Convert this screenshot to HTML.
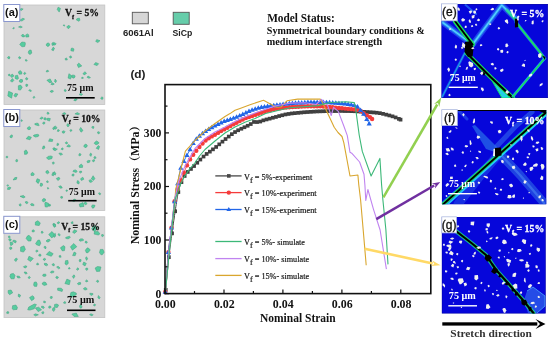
<!DOCTYPE html>
<html><head><meta charset="utf-8"><title>Figure</title>
<style>html,body{margin:0;padding:0;background:#fff;overflow:hidden}svg{display:block}.tn{font-family:"Liberation Serif","Times New Roman",serif}.sa{font-family:"Liberation Sans",Arial,sans-serif}</style></head><body>
<svg width="550" height="341" viewBox="0 0 550 341">
<rect x="4" y="5" width="100.8" height="99.5" fill="#d7d7d7" stroke="#c4c4c4" stroke-width="0.8"/><polygon points="23.2,9.0 21.4,10.5 19.6,9.7 21.1,8.4" fill="#56cc9f" stroke="#3f9f7c" stroke-width="0.5"/><polygon points="24.6,19.1 21.9,21.1 19.8,20.2 22.9,18.2" fill="#56cc9f" stroke="#3f9f7c" stroke-width="0.5"/><polygon points="14.4,27.8 13.7,29.0 12.7,28.5 13.6,27.4" fill="#56cc9f" stroke="#3f9f7c" stroke-width="0.5"/><polygon points="22.3,27.1 20.8,27.8 18.5,27.0 20.4,26.1" fill="#56cc9f" stroke="#3f9f7c" stroke-width="0.5"/><polygon points="24.7,35.8 24.3,36.9 22.5,36.9 21.3,35.7 22.1,34.6 23.5,34.6" fill="#56cc9f" stroke="#3f9f7c" stroke-width="0.5"/><polygon points="28.7,34.8 28.8,36.9 25.9,37.1 25.7,34.9 27.4,33.9" fill="#56cc9f" stroke="#3f9f7c" stroke-width="0.5"/><polygon points="25.4,43.9 24.7,46.5 21.9,46.8 19.7,44.4 21.8,42.0 25.1,42.4" fill="#56cc9f" stroke="#3f9f7c" stroke-width="0.5"/><polygon points="49.8,44.1 49.1,45.9 47.6,46.5 46.0,45.1 47.0,43.3 48.5,43.0" fill="#56cc9f" stroke="#3f9f7c" stroke-width="0.5"/><polygon points="54.5,43.7 54.3,44.8 52.4,45.5 52.0,44.7 51.9,43.2 53.3,42.3" fill="#56cc9f" stroke="#3f9f7c" stroke-width="0.5"/><polygon points="54.5,48.2 53.4,50.7 51.6,49.9 53.2,47.1" fill="#56cc9f" stroke="#3f9f7c" stroke-width="0.5"/><polygon points="31.8,53.1 30.0,54.5 28.8,53.8 28.2,52.1 29.3,50.2 31.1,50.0" fill="#56cc9f" stroke="#3f9f7c" stroke-width="0.5"/><polygon points="60.5,8.4 59.2,12.1 57.2,9.5 58.1,7.2" fill="#56cc9f" stroke="#3f9f7c" stroke-width="0.5"/><polygon points="80.0,20.1 79.0,21.3 76.4,20.0 76.9,18.7 79.3,18.1" fill="#56cc9f" stroke="#3f9f7c" stroke-width="0.5"/><polygon points="70.4,27.0 68.2,28.7 66.7,26.8 69.0,25.3" fill="#56cc9f" stroke="#3f9f7c" stroke-width="0.5"/><polygon points="64.8,25.7 64.0,26.2 63.1,25.2 64.3,24.8" fill="#56cc9f" stroke="#3f9f7c" stroke-width="0.5"/><polygon points="100.0,40.7 97.8,42.6 95.7,41.4 96.7,39.6" fill="#56cc9f" stroke="#3f9f7c" stroke-width="0.5"/><polygon points="74.0,48.9 73.5,51.3 70.9,50.8 71.1,48.6 72.0,47.9" fill="#56cc9f" stroke="#3f9f7c" stroke-width="0.5"/><polygon points="56.1,43.8 55.2,45.0 54.1,45.1 53.5,44.5 54.2,42.7 55.3,42.9" fill="#56cc9f" stroke="#3f9f7c" stroke-width="0.5"/><polygon points="9.9,56.9 9.4,58.8 8.0,58.5 7.4,57.6 8.4,56.5" fill="#56cc9f" stroke="#3f9f7c" stroke-width="0.5"/><polygon points="21.0,57.8 19.8,59.1 18.5,58.0 19.2,56.5" fill="#56cc9f" stroke="#3f9f7c" stroke-width="0.5"/><polygon points="27.4,60.6 25.9,61.3 25.1,59.9 26.1,59.4" fill="#56cc9f" stroke="#3f9f7c" stroke-width="0.5"/><polygon points="21.8,72.0 21.7,74.1 19.2,74.2 18.3,71.9 20.2,70.6" fill="#56cc9f" stroke="#3f9f7c" stroke-width="0.5"/><polygon points="26.0,73.4 24.9,74.5 23.6,73.9 24.6,72.2" fill="#56cc9f" stroke="#3f9f7c" stroke-width="0.5"/><polygon points="14.0,75.9 11.7,77.6 10.3,75.8 12.3,74.0" fill="#56cc9f" stroke="#3f9f7c" stroke-width="0.5"/><polygon points="10.1,75.3 9.2,75.9 8.5,75.6 8.3,74.7 8.9,74.1 9.9,74.3" fill="#56cc9f" stroke="#3f9f7c" stroke-width="0.5"/><polygon points="18.5,78.4 17.2,79.4 15.1,78.4 15.3,75.7 17.6,75.2" fill="#56cc9f" stroke="#3f9f7c" stroke-width="0.5"/><polygon points="13.9,80.3 12.3,82.1 10.4,81.1 12.4,78.5" fill="#56cc9f" stroke="#3f9f7c" stroke-width="0.5"/><polygon points="22.4,82.0 21.1,82.6 19.3,81.8 19.5,80.2 20.9,79.3 22.6,79.8" fill="#56cc9f" stroke="#3f9f7c" stroke-width="0.5"/><polygon points="27.9,78.5 27.0,80.1 25.4,79.1 26.4,77.4" fill="#56cc9f" stroke="#3f9f7c" stroke-width="0.5"/><polygon points="27.7,84.5 27.6,86.1 26.1,86.6 25.7,84.9 26.2,84.1" fill="#56cc9f" stroke="#3f9f7c" stroke-width="0.5"/><polygon points="22.3,87.2 20.5,90.1 18.4,89.8 18.3,85.8 20.5,85.0" fill="#56cc9f" stroke="#3f9f7c" stroke-width="0.5"/><polygon points="12.6,93.1 11.6,98.2 7.8,96.0 8.6,91.3" fill="#56cc9f" stroke="#3f9f7c" stroke-width="0.5"/><polygon points="17.9,94.0 16.0,97.1 13.9,95.9 15.2,93.4" fill="#56cc9f" stroke="#3f9f7c" stroke-width="0.5"/><polygon points="31.5,90.7 31.0,91.6 28.7,90.5 29.7,89.5" fill="#56cc9f" stroke="#3f9f7c" stroke-width="0.5"/><polygon points="34.8,97.6 34.0,98.4 33.5,98.1 33.1,97.4 33.8,96.4 34.3,96.4" fill="#56cc9f" stroke="#3f9f7c" stroke-width="0.5"/><polygon points="48.7,71.4 46.6,72.1 46.1,71.0 47.9,70.1" fill="#56cc9f" stroke="#3f9f7c" stroke-width="0.5"/><polygon points="51.9,82.3 49.4,82.7 46.9,80.2 50.2,78.9" fill="#56cc9f" stroke="#3f9f7c" stroke-width="0.5"/><polygon points="54.3,84.0 52.9,84.9 50.8,84.3 52.4,82.8" fill="#56cc9f" stroke="#3f9f7c" stroke-width="0.5"/><polygon points="53.5,91.0 52.1,92.6 49.9,91.5 51.8,90.3" fill="#56cc9f" stroke="#3f9f7c" stroke-width="0.5"/><polygon points="67.4,59.9 65.5,60.1 65.0,58.7 66.6,57.9" fill="#56cc9f" stroke="#3f9f7c" stroke-width="0.5"/><polygon points="71.7,57.5 70.3,58.2 69.3,56.7 71.0,55.8" fill="#56cc9f" stroke="#3f9f7c" stroke-width="0.5"/><polygon points="81.8,65.9 78.5,67.6 77.2,64.7 78.8,63.1" fill="#56cc9f" stroke="#3f9f7c" stroke-width="0.5"/><polygon points="98.6,63.7 97.1,65.6 93.9,64.5 95.6,62.5" fill="#56cc9f" stroke="#3f9f7c" stroke-width="0.5"/><polygon points="71.8,75.8 70.5,79.1 68.1,78.1 68.9,73.7" fill="#56cc9f" stroke="#3f9f7c" stroke-width="0.5"/><polygon points="75.1,76.8 74.0,78.2 71.9,77.5 71.9,75.9 72.5,74.9 74.8,75.4" fill="#56cc9f" stroke="#3f9f7c" stroke-width="0.5"/><polygon points="86.5,73.5 84.1,74.9 82.9,73.6 85.1,71.7" fill="#56cc9f" stroke="#3f9f7c" stroke-width="0.5"/><polygon points="90.5,77.6 88.9,78.3 87.0,77.3 88.1,76.0" fill="#56cc9f" stroke="#3f9f7c" stroke-width="0.5"/><polygon points="83.3,78.3 82.0,78.6 81.5,78.3 81.9,77.2 83.1,77.3" fill="#56cc9f" stroke="#3f9f7c" stroke-width="0.5"/><polygon points="56.6,80.9 55.6,82.7 54.6,81.6 55.1,79.1" fill="#56cc9f" stroke="#3f9f7c" stroke-width="0.5"/><polygon points="66.3,90.3 65.7,91.6 64.1,91.0 64.8,89.3" fill="#56cc9f" stroke="#3f9f7c" stroke-width="0.5"/><polygon points="82.6,94.2 81.4,95.5 79.1,94.5 80.4,93.3" fill="#56cc9f" stroke="#3f9f7c" stroke-width="0.5"/><polygon points="77.2,99.1 75.8,100.9 73.8,100.4 75.4,98.5" fill="#56cc9f" stroke="#3f9f7c" stroke-width="0.5"/><polygon points="103.0,98.8 102.1,99.5 100.8,98.7 100.9,97.7 101.8,96.9 103.0,97.4" fill="#56cc9f" stroke="#3f9f7c" stroke-width="0.5"/><rect x="3.8" y="4.5" width="16" height="17" fill="#fff" stroke="#8a97cf" stroke-width="1"/><text class="sa" x="11.8" y="16.4" font-size="11" font-weight="bold" text-anchor="middle" fill="#111">(a)</text><text class="tn" x="65.10000000000001" y="16" font-size="10.8" font-weight="bold" fill="#111" stroke="#111" stroke-width="0.3" textLength="33.9" lengthAdjust="spacingAndGlyphs">V<tspan font-size="6.7" dy="2.6">f</tspan><tspan dy="-2.6"> = 5%</tspan></text><text class="tn" x="66.9" y="91.4" font-size="10.5" font-weight="bold" fill="#111" textLength="26.6" lengthAdjust="spacingAndGlyphs">75 μm</text><rect x="66" y="97.0" width="28.7" height="1.6" fill="#000"/><rect x="4" y="110" width="100.8" height="100.5" fill="#d7d7d7" stroke="#c4c4c4" stroke-width="0.8"/><polygon points="22.5,120.7 22.0,121.4 20.8,120.9 21.6,119.6" fill="#56cc9f" stroke="#3f9f7c" stroke-width="0.5"/><polygon points="43.2,117.8 41.6,119.2 39.8,118.5 41.8,116.9" fill="#56cc9f" stroke="#3f9f7c" stroke-width="0.5"/><polygon points="49.2,113.3 48.8,113.9 47.6,114.3 46.9,113.1 47.8,112.0" fill="#56cc9f" stroke="#3f9f7c" stroke-width="0.5"/><polygon points="46.3,119.2 45.4,119.9 43.9,119.4 43.9,118.3 45.0,117.6 46.2,118.2" fill="#56cc9f" stroke="#3f9f7c" stroke-width="0.5"/><polygon points="50.4,118.6 49.5,121.1 46.7,119.9 47.6,118.1" fill="#56cc9f" stroke="#3f9f7c" stroke-width="0.5"/><polygon points="39.1,125.4 38.7,125.8 35.0,124.7 34.7,123.8 36.6,123.2 38.1,123.3" fill="#56cc9f" stroke="#3f9f7c" stroke-width="0.5"/><polygon points="44.9,122.4 44.9,123.5 43.7,124.2 42.6,123.5 43.0,122.4 44.0,121.9" fill="#56cc9f" stroke="#3f9f7c" stroke-width="0.5"/><polygon points="30.6,127.6 30.1,129.5 28.0,129.6 27.1,128.1 29.3,126.4" fill="#56cc9f" stroke="#3f9f7c" stroke-width="0.5"/><polygon points="12.4,136.9 11.7,137.8 10.2,137.4 9.9,136.3 11.4,134.9 12.3,135.0" fill="#56cc9f" stroke="#3f9f7c" stroke-width="0.5"/><polygon points="39.0,135.0 38.2,136.5 35.5,137.1 33.3,135.9 33.9,135.0 37.4,134.3" fill="#56cc9f" stroke="#3f9f7c" stroke-width="0.5"/><polygon points="31.4,137.2 30.0,139.8 26.2,138.8 28.3,136.2" fill="#56cc9f" stroke="#3f9f7c" stroke-width="0.5"/><polygon points="52.9,139.6 52.4,141.4 48.6,141.3 49.7,138.7" fill="#56cc9f" stroke="#3f9f7c" stroke-width="0.5"/><polygon points="44.9,148.0 43.2,149.1 42.4,148.7 43.1,146.1 44.4,145.9" fill="#56cc9f" stroke="#3f9f7c" stroke-width="0.5"/><polygon points="27.6,152.2 27.1,154.1 24.6,154.4 24.3,151.1 26.1,149.9" fill="#56cc9f" stroke="#3f9f7c" stroke-width="0.5"/><polygon points="52.4,156.6 51.8,158.7 48.5,159.5 46.5,158.0 48.0,156.4 50.9,155.9" fill="#56cc9f" stroke="#3f9f7c" stroke-width="0.5"/><polygon points="7.8,156.6 7.6,157.7 6.4,157.7 5.9,157.3 6.4,156.3 7.4,156.3" fill="#56cc9f" stroke="#3f9f7c" stroke-width="0.5"/><polygon points="55.2,128.2 53.9,129.7 52.7,129.0 53.3,127.2" fill="#56cc9f" stroke="#3f9f7c" stroke-width="0.5"/><polygon points="55.3,149.1 54.3,149.9 53.4,149.8 52.8,148.6 53.4,147.9 54.3,147.6" fill="#56cc9f" stroke="#3f9f7c" stroke-width="0.5"/><polygon points="66.1,113.6 64.8,114.8 62.5,113.6 64.3,112.6" fill="#56cc9f" stroke="#3f9f7c" stroke-width="0.5"/><polygon points="79.7,113.9 78.2,114.7 74.9,113.9 77.3,112.6" fill="#56cc9f" stroke="#3f9f7c" stroke-width="0.5"/><polygon points="69.3,125.6 67.9,127.0 66.7,125.1 67.8,123.6" fill="#56cc9f" stroke="#3f9f7c" stroke-width="0.5"/><polygon points="57.1,127.9 55.4,129.3 54.1,126.8 55.4,125.9" fill="#56cc9f" stroke="#3f9f7c" stroke-width="0.5"/><polygon points="59.5,130.3 58.7,131.5 57.3,131.3 57.9,129.4" fill="#56cc9f" stroke="#3f9f7c" stroke-width="0.5"/><polygon points="65.0,131.6 64.1,133.2 62.5,132.9 62.1,131.5 64.1,130.7" fill="#56cc9f" stroke="#3f9f7c" stroke-width="0.5"/><polygon points="72.2,130.4 70.6,131.6 69.8,130.4 70.9,129.4" fill="#56cc9f" stroke="#3f9f7c" stroke-width="0.5"/><polygon points="83.0,130.6 81.0,132.2 79.5,129.5 80.7,127.4" fill="#56cc9f" stroke="#3f9f7c" stroke-width="0.5"/><polygon points="94.0,127.0 93.5,128.4 92.7,128.4 91.7,127.2 92.2,126.4 93.8,126.5" fill="#56cc9f" stroke="#3f9f7c" stroke-width="0.5"/><polygon points="99.8,132.7 98.8,134.0 97.6,133.2 97.6,131.9 99.1,131.7" fill="#56cc9f" stroke="#3f9f7c" stroke-width="0.5"/><polygon points="58.9,143.9 58.1,145.5 56.8,145.3 57.3,143.2" fill="#56cc9f" stroke="#3f9f7c" stroke-width="0.5"/><polygon points="67.6,142.7 67.3,143.7 66.2,144.0 65.2,142.8 66.6,141.7" fill="#56cc9f" stroke="#3f9f7c" stroke-width="0.5"/><polygon points="70.5,145.9 69.6,147.1 66.7,146.4 68.6,144.6" fill="#56cc9f" stroke="#3f9f7c" stroke-width="0.5"/><polygon points="63.3,148.6 62.7,149.9 61.1,149.2 62.1,147.8" fill="#56cc9f" stroke="#3f9f7c" stroke-width="0.5"/><polygon points="57.4,149.1 55.2,150.7 53.5,149.8 54.7,148.4" fill="#56cc9f" stroke="#3f9f7c" stroke-width="0.5"/><polygon points="87.3,145.3 87.0,146.8 85.1,147.7 83.8,146.4 84.2,145.0 85.9,144.1" fill="#56cc9f" stroke="#3f9f7c" stroke-width="0.5"/><polygon points="99.1,142.8 98.0,144.0 96.0,144.8 94.1,143.3 95.3,141.8 96.7,140.9" fill="#56cc9f" stroke="#3f9f7c" stroke-width="0.5"/><polygon points="99.6,146.5 98.6,149.4 96.2,148.3 98.3,145.5" fill="#56cc9f" stroke="#3f9f7c" stroke-width="0.5"/><polygon points="62.6,154.3 60.5,155.3 58.9,153.2 61.2,153.0" fill="#56cc9f" stroke="#3f9f7c" stroke-width="0.5"/><polygon points="81.1,154.8 79.9,156.0 78.7,155.3 79.4,153.6 80.3,153.6" fill="#56cc9f" stroke="#3f9f7c" stroke-width="0.5"/><polygon points="91.8,154.1 90.9,156.4 89.6,155.1 90.6,153.0" fill="#56cc9f" stroke="#3f9f7c" stroke-width="0.5"/><polygon points="96.2,158.1 94.5,158.8 93.8,157.3 95.1,156.3" fill="#56cc9f" stroke="#3f9f7c" stroke-width="0.5"/><polygon points="17.8,161.0 17.2,161.7 16.2,161.8 15.6,160.9 16.3,159.4 17.3,159.6" fill="#56cc9f" stroke="#3f9f7c" stroke-width="0.5"/><polygon points="34.4,174.1 33.5,175.5 31.1,175.4 30.9,173.7 32.6,172.3" fill="#56cc9f" stroke="#3f9f7c" stroke-width="0.5"/><polygon points="17.0,177.4 16.3,179.4 13.1,180.0 14.8,177.6" fill="#56cc9f" stroke="#3f9f7c" stroke-width="0.5"/><polygon points="39.7,180.6 38.4,183.4 37.1,182.7 36.2,181.3 37.1,178.7 39.5,179.6" fill="#56cc9f" stroke="#3f9f7c" stroke-width="0.5"/><polygon points="49.1,172.7 47.3,173.8 45.8,172.5 46.1,171.1 47.9,170.4" fill="#56cc9f" stroke="#3f9f7c" stroke-width="0.5"/><polygon points="54.8,173.0 53.5,175.8 51.8,175.2 52.8,172.4" fill="#56cc9f" stroke="#3f9f7c" stroke-width="0.5"/><polygon points="54.4,163.3 52.9,164.3 52.3,162.4 53.8,161.9" fill="#56cc9f" stroke="#3f9f7c" stroke-width="0.5"/><polygon points="48.3,181.4 48.2,182.4 47.1,182.6 46.4,182.0 47.1,180.7 47.6,180.9" fill="#56cc9f" stroke="#3f9f7c" stroke-width="0.5"/><polygon points="42.7,185.1 41.4,186.4 40.2,185.9 40.2,185.1 40.7,183.1 42.3,183.6" fill="#56cc9f" stroke="#3f9f7c" stroke-width="0.5"/><polygon points="10.8,187.6 10.0,189.3 7.6,189.5 7.7,187.7 9.4,187.1" fill="#56cc9f" stroke="#3f9f7c" stroke-width="0.5"/><polygon points="8.6,185.7 7.5,186.3 6.9,185.5 7.8,184.6" fill="#56cc9f" stroke="#3f9f7c" stroke-width="0.5"/><polygon points="48.9,188.5 47.7,189.1 47.4,187.7 48.2,187.6" fill="#56cc9f" stroke="#3f9f7c" stroke-width="0.5"/><polygon points="25.2,197.1 23.3,197.9 20.0,196.3 23.5,195.4" fill="#56cc9f" stroke="#3f9f7c" stroke-width="0.5"/><polygon points="45.4,199.0 45.6,200.6 43.4,202.0 42.2,200.8 42.8,199.0 43.8,198.5" fill="#56cc9f" stroke="#3f9f7c" stroke-width="0.5"/><polygon points="28.1,202.9 26.4,203.8 25.0,201.9 27.1,201.4" fill="#56cc9f" stroke="#3f9f7c" stroke-width="0.5"/><polygon points="34.1,205.4 33.5,205.7 31.2,205.5 30.5,204.2 31.9,203.4 33.7,204.2" fill="#56cc9f" stroke="#3f9f7c" stroke-width="0.5"/><polygon points="21.4,205.2 20.0,206.2 19.0,204.9 20.2,203.6" fill="#56cc9f" stroke="#3f9f7c" stroke-width="0.5"/><polygon points="49.2,205.7 47.1,207.1 45.1,206.8 44.8,203.3 45.4,202.1 48.7,203.4" fill="#56cc9f" stroke="#3f9f7c" stroke-width="0.5"/><polygon points="50.6,205.8 49.1,206.3 48.8,204.5 50.3,204.4" fill="#56cc9f" stroke="#3f9f7c" stroke-width="0.5"/><polygon points="82.7,165.4 82.5,167.4 79.5,167.5 79.0,165.9 81.2,164.1" fill="#56cc9f" stroke="#3f9f7c" stroke-width="0.5"/><polygon points="90.2,160.6 89.5,162.3 87.6,162.8 86.9,161.4 88.1,160.4" fill="#56cc9f" stroke="#3f9f7c" stroke-width="0.5"/><polygon points="94.7,160.9 93.2,162.0 92.3,160.4 94.2,159.5" fill="#56cc9f" stroke="#3f9f7c" stroke-width="0.5"/><polygon points="77.2,171.2 76.2,172.5 72.9,171.5 73.7,170.2 75.7,169.9" fill="#56cc9f" stroke="#3f9f7c" stroke-width="0.5"/><polygon points="81.7,172.3 80.5,173.1 79.6,172.6 79.6,171.3 81.5,171.1" fill="#56cc9f" stroke="#3f9f7c" stroke-width="0.5"/><polygon points="74.2,175.0 73.4,176.2 71.9,175.6 72.1,174.3 73.7,173.9" fill="#56cc9f" stroke="#3f9f7c" stroke-width="0.5"/><polygon points="56.0,173.4 55.2,175.2 53.6,173.6 54.1,171.6" fill="#56cc9f" stroke="#3f9f7c" stroke-width="0.5"/><polygon points="60.0,178.8 57.9,180.6 56.3,178.4 59.0,177.2" fill="#56cc9f" stroke="#3f9f7c" stroke-width="0.5"/><polygon points="83.9,179.2 81.4,180.5 80.5,178.8 82.8,177.2" fill="#56cc9f" stroke="#3f9f7c" stroke-width="0.5"/><polygon points="94.9,178.6 93.5,180.4 91.3,178.8 93.1,175.7" fill="#56cc9f" stroke="#3f9f7c" stroke-width="0.5"/><polygon points="92.5,181.2 91.4,182.3 89.8,182.2 89.0,180.7 89.7,179.8 91.2,179.9" fill="#56cc9f" stroke="#3f9f7c" stroke-width="0.5"/><polygon points="79.3,182.4 78.8,184.0 76.9,183.1 77.3,180.7 78.4,180.8" fill="#56cc9f" stroke="#3f9f7c" stroke-width="0.5"/><polygon points="62.3,188.0 60.2,188.2 58.7,186.4 61.0,185.8" fill="#56cc9f" stroke="#3f9f7c" stroke-width="0.5"/><polygon points="67.5,191.0 66.8,191.5 65.9,191.1 66.0,190.2 66.5,189.9 67.3,190.1" fill="#56cc9f" stroke="#3f9f7c" stroke-width="0.5"/><polygon points="62.6,196.7 62.5,198.1 61.0,198.3 60.5,197.0 61.1,196.3" fill="#56cc9f" stroke="#3f9f7c" stroke-width="0.5"/><polygon points="100.7,193.5 100.2,194.8 99.4,194.7 98.5,193.1 99.3,192.7" fill="#56cc9f" stroke="#3f9f7c" stroke-width="0.5"/><polygon points="75.8,199.5 74.3,201.5 72.5,201.1 73.9,199.1" fill="#56cc9f" stroke="#3f9f7c" stroke-width="0.5"/><polygon points="84.0,206.4 80.0,207.0 79.2,204.2 83.0,202.6" fill="#56cc9f" stroke="#3f9f7c" stroke-width="0.5"/><polygon points="87.1,203.4 85.8,205.0 83.8,203.5 85.3,201.8" fill="#56cc9f" stroke="#3f9f7c" stroke-width="0.5"/><polygon points="95.0,205.9 93.8,207.9 92.5,208.2 91.5,206.4 92.3,204.9 94.7,205.1" fill="#56cc9f" stroke="#3f9f7c" stroke-width="0.5"/><rect x="3.8" y="109.5" width="16" height="17" fill="#fff" stroke="#8a97cf" stroke-width="1"/><text class="sa" x="11.8" y="121.4" font-size="11" font-weight="bold" text-anchor="middle" fill="#111">(b)</text><text class="tn" x="61.800000000000004" y="121.7" font-size="10.8" font-weight="bold" fill="#111" stroke="#111" stroke-width="0.3" textLength="38.7" lengthAdjust="spacingAndGlyphs">V<tspan font-size="6.7" dy="2.6">f</tspan><tspan dy="-2.6"> = 10%</tspan></text><text class="tn" x="68.7" y="194.7" font-size="10.5" font-weight="bold" fill="#111" textLength="26.3" lengthAdjust="spacingAndGlyphs">75 μm</text><rect x="68.2" y="199.89999999999998" width="28.4" height="1.6" fill="#000"/><rect x="4" y="216.8" width="100.8" height="100.80000000000001" fill="#d7d7d7" stroke="#c4c4c4" stroke-width="0.8"/><polygon points="40.3,222.9 39.2,225.6 35.3,225.1 35.4,222.1 37.8,220.7" fill="#56cc9f" stroke="#3f9f7c" stroke-width="0.5"/><polygon points="55.2,224.6 55.1,226.4 54.3,226.7 53.0,225.2 52.8,223.9 54.0,223.2" fill="#56cc9f" stroke="#3f9f7c" stroke-width="0.5"/><polygon points="34.4,230.7 34.2,231.8 32.4,232.0 32.0,231.0 32.3,230.2 33.7,229.8" fill="#56cc9f" stroke="#3f9f7c" stroke-width="0.5"/><polygon points="43.3,232.5 41.8,233.4 41.0,232.0 42.1,230.9" fill="#56cc9f" stroke="#3f9f7c" stroke-width="0.5"/><polygon points="55.3,235.3 51.7,237.9 48.7,234.5 52.0,231.5" fill="#56cc9f" stroke="#3f9f7c" stroke-width="0.5"/><polygon points="31.4,237.8 30.9,241.0 28.2,241.1 26.1,238.4 27.3,236.1 29.0,235.2" fill="#56cc9f" stroke="#3f9f7c" stroke-width="0.5"/><polygon points="10.3,237.3 8.8,238.1 8.4,236.2 9.6,235.9" fill="#56cc9f" stroke="#3f9f7c" stroke-width="0.5"/><polygon points="11.3,239.5 10.9,240.5 9.9,241.2 8.6,240.0 9.0,239.2 9.8,238.6" fill="#56cc9f" stroke="#3f9f7c" stroke-width="0.5"/><polygon points="16.3,241.0 15.6,243.0 12.5,241.3 13.7,240.0" fill="#56cc9f" stroke="#3f9f7c" stroke-width="0.5"/><polygon points="13.2,243.9 11.8,245.3 10.4,245.3 10.0,242.3 12.2,242.2" fill="#56cc9f" stroke="#3f9f7c" stroke-width="0.5"/><polygon points="40.8,243.2 39.5,245.8 36.5,244.8 35.6,243.6 37.8,240.3 39.5,240.0" fill="#56cc9f" stroke="#3f9f7c" stroke-width="0.5"/><polygon points="50.3,240.0 49.0,241.7 47.4,242.0 46.0,241.0 47.3,239.8 49.3,239.3" fill="#56cc9f" stroke="#3f9f7c" stroke-width="0.5"/><polygon points="11.8,248.9 10.9,249.3 10.0,249.4 9.5,247.7 10.3,247.0 11.9,247.6" fill="#56cc9f" stroke="#3f9f7c" stroke-width="0.5"/><polygon points="25.4,249.4 23.5,252.1 20.5,251.3 20.7,247.1 24.0,245.9" fill="#56cc9f" stroke="#3f9f7c" stroke-width="0.5"/><polygon points="38.2,250.9 36.9,252.2 35.6,251.1 36.9,249.9" fill="#56cc9f" stroke="#3f9f7c" stroke-width="0.5"/><polygon points="46.1,247.0 46.0,248.4 45.0,248.7 44.0,247.3 44.3,246.4 45.4,246.3" fill="#56cc9f" stroke="#3f9f7c" stroke-width="0.5"/><polygon points="53.2,253.7 51.3,256.3 46.3,254.5 49.2,251.4" fill="#56cc9f" stroke="#3f9f7c" stroke-width="0.5"/><polygon points="41.1,255.7 40.1,256.3 38.7,255.8 39.1,254.2 40.6,254.2" fill="#56cc9f" stroke="#3f9f7c" stroke-width="0.5"/><polygon points="33.3,258.4 30.5,261.5 27.7,259.6 29.0,256.2" fill="#56cc9f" stroke="#3f9f7c" stroke-width="0.5"/><polygon points="17.5,258.9 15.9,261.6 14.3,260.0 16.1,258.0" fill="#56cc9f" stroke="#3f9f7c" stroke-width="0.5"/><polygon points="45.7,259.1 45.0,260.3 44.6,260.5 43.5,260.0 43.2,259.0 44.8,258.3" fill="#56cc9f" stroke="#3f9f7c" stroke-width="0.5"/><polygon points="38.7,264.7 36.8,264.9 36.6,263.7 38.0,262.9" fill="#56cc9f" stroke="#3f9f7c" stroke-width="0.5"/><polygon points="47.8,265.1 46.4,265.8 44.6,265.0 44.3,263.4 45.0,263.3 46.8,263.5" fill="#56cc9f" stroke="#3f9f7c" stroke-width="0.5"/><polygon points="54.3,264.0 54.2,265.7 52.9,265.7 52.1,264.8 52.4,264.0 53.5,263.5" fill="#56cc9f" stroke="#3f9f7c" stroke-width="0.5"/><polygon points="59.8,222.6 58.1,224.0 57.1,222.8 58.7,221.6" fill="#56cc9f" stroke="#3f9f7c" stroke-width="0.5"/><polygon points="73.1,223.5 71.4,223.6 71.0,222.4 72.8,221.6" fill="#56cc9f" stroke="#3f9f7c" stroke-width="0.5"/><polygon points="55.7,226.4 55.2,227.0 54.0,227.2 53.6,225.3 54.2,223.9 55.4,224.3" fill="#56cc9f" stroke="#3f9f7c" stroke-width="0.5"/><polygon points="77.1,231.1 74.5,233.4 72.6,232.3 74.4,229.7" fill="#56cc9f" stroke="#3f9f7c" stroke-width="0.5"/><polygon points="97.6,227.7 94.7,231.8 91.7,229.1 93.7,225.3" fill="#56cc9f" stroke="#3f9f7c" stroke-width="0.5"/><polygon points="99.9,233.9 98.3,235.0 94.1,234.1 94.5,231.7 98.1,231.4" fill="#56cc9f" stroke="#3f9f7c" stroke-width="0.5"/><polygon points="103.7,235.8 102.3,236.8 101.6,235.9 101.6,234.7 103.1,234.4" fill="#56cc9f" stroke="#3f9f7c" stroke-width="0.5"/><polygon points="55.6,236.1 54.3,237.5 53.6,234.8 55.3,233.3" fill="#56cc9f" stroke="#3f9f7c" stroke-width="0.5"/><polygon points="60.3,234.9 59.4,236.0 57.9,234.6 58.9,233.4" fill="#56cc9f" stroke="#3f9f7c" stroke-width="0.5"/><polygon points="70.4,237.0 69.1,238.6 67.0,238.8 65.4,238.1 66.1,237.2 69.5,236.3" fill="#56cc9f" stroke="#3f9f7c" stroke-width="0.5"/><polygon points="83.8,240.0 83.1,240.6 80.0,241.2 79.0,240.0 80.3,238.9 82.3,238.8" fill="#56cc9f" stroke="#3f9f7c" stroke-width="0.5"/><polygon points="87.4,242.5 86.5,243.2 85.2,242.7 85.1,242.2 85.6,241.0 86.6,241.2" fill="#56cc9f" stroke="#3f9f7c" stroke-width="0.5"/><polygon points="76.8,246.7 72.4,250.2 70.4,246.8 73.8,243.5" fill="#56cc9f" stroke="#3f9f7c" stroke-width="0.5"/><polygon points="65.0,246.7 64.5,250.6 62.3,250.9 60.4,247.8 63.4,245.6" fill="#56cc9f" stroke="#3f9f7c" stroke-width="0.5"/><polygon points="90.3,250.0 88.0,252.7 86.3,252.7 85.3,250.2 87.3,247.8 88.8,248.4" fill="#56cc9f" stroke="#3f9f7c" stroke-width="0.5"/><polygon points="104.1,252.2 102.5,254.6 101.0,254.8 99.5,252.6 100.3,249.4 103.0,249.4" fill="#56cc9f" stroke="#3f9f7c" stroke-width="0.5"/><polygon points="76.1,253.1 75.2,255.7 72.6,255.6 74.1,252.0" fill="#56cc9f" stroke="#3f9f7c" stroke-width="0.5"/><polygon points="61.1,257.2 59.3,257.2 59.0,255.8 60.6,255.4" fill="#56cc9f" stroke="#3f9f7c" stroke-width="0.5"/><polygon points="87.7,258.8 86.5,260.4 85.5,258.0 86.5,256.7" fill="#56cc9f" stroke="#3f9f7c" stroke-width="0.5"/><polygon points="81.2,259.8 80.7,261.7 79.5,261.7 79.1,260.0 79.9,259.3" fill="#56cc9f" stroke="#3f9f7c" stroke-width="0.5"/><polygon points="68.3,263.4 66.6,264.9 65.0,264.0 65.5,260.7 67.9,260.4" fill="#56cc9f" stroke="#3f9f7c" stroke-width="0.5"/><polygon points="86.3,263.4 85.0,266.0 82.7,264.4 83.8,262.0" fill="#56cc9f" stroke="#3f9f7c" stroke-width="0.5"/><polygon points="27.1,266.5 25.6,267.9 24.0,267.5 23.4,266.7 25.6,265.7" fill="#56cc9f" stroke="#3f9f7c" stroke-width="0.5"/><polygon points="15.0,275.3 14.1,278.8 11.1,278.8 9.9,276.4 10.6,274.1 13.4,273.4" fill="#56cc9f" stroke="#3f9f7c" stroke-width="0.5"/><polygon points="20.3,277.8 17.8,278.0 16.8,276.1 19.3,276.2" fill="#56cc9f" stroke="#3f9f7c" stroke-width="0.5"/><polygon points="27.2,273.5 25.4,274.1 24.1,272.0 26.2,272.0" fill="#56cc9f" stroke="#3f9f7c" stroke-width="0.5"/><polygon points="30.4,277.5 29.1,278.8 28.0,277.5 29.4,276.3" fill="#56cc9f" stroke="#3f9f7c" stroke-width="0.5"/><polygon points="46.2,274.8 45.6,276.2 43.9,276.4 42.6,275.8 43.1,274.3 45.3,274.1" fill="#56cc9f" stroke="#3f9f7c" stroke-width="0.5"/><polygon points="54.1,272.1 53.5,272.6 51.0,273.1 50.4,272.4 51.2,271.2 53.3,270.9" fill="#56cc9f" stroke="#3f9f7c" stroke-width="0.5"/><polygon points="37.2,283.9 36.7,286.4 34.3,286.3 33.6,285.1 34.1,282.3 36.2,281.9" fill="#56cc9f" stroke="#3f9f7c" stroke-width="0.5"/><polygon points="46.9,284.7 44.2,285.5 42.4,284.3 42.3,283.0 44.0,281.9 45.9,282.6" fill="#56cc9f" stroke="#3f9f7c" stroke-width="0.5"/><polygon points="12.7,292.8 9.6,294.7 8.2,293.1 8.1,290.5 11.1,290.0" fill="#56cc9f" stroke="#3f9f7c" stroke-width="0.5"/><polygon points="20.6,295.2 19.7,297.3 18.1,296.3 18.5,294.0" fill="#56cc9f" stroke="#3f9f7c" stroke-width="0.5"/><polygon points="34.0,296.9 34.1,299.0 31.6,300.7 29.5,297.6 32.4,295.7" fill="#56cc9f" stroke="#3f9f7c" stroke-width="0.5"/><polygon points="45.5,301.5 45.2,303.0 43.6,302.5 43.8,300.9" fill="#56cc9f" stroke="#3f9f7c" stroke-width="0.5"/><polygon points="52.2,297.8 52.0,298.4 50.4,298.3 50.2,297.1 50.9,296.3 52.4,296.8" fill="#56cc9f" stroke="#3f9f7c" stroke-width="0.5"/><polygon points="17.3,307.3 17.0,309.4 13.3,309.8 12.2,308.8 12.6,305.7 15.9,305.0" fill="#56cc9f" stroke="#3f9f7c" stroke-width="0.5"/><polygon points="36.4,304.5 34.2,308.8 29.9,310.1 27.7,309.8 28.7,307.1 34.4,304.0" fill="#56cc9f" stroke="#3f9f7c" stroke-width="0.5"/><polygon points="41.6,309.8 38.1,311.6 35.3,307.9 38.7,307.2" fill="#56cc9f" stroke="#3f9f7c" stroke-width="0.5"/><polygon points="44.4,307.7 43.5,308.6 41.4,307.4 41.6,306.2 43.5,306.3" fill="#56cc9f" stroke="#3f9f7c" stroke-width="0.5"/><polygon points="8.9,313.0 8.2,313.6 6.6,313.2 7.0,311.7 8.5,311.7" fill="#56cc9f" stroke="#3f9f7c" stroke-width="0.5"/><polygon points="38.4,314.8 35.5,316.0 33.7,314.8 35.5,313.8" fill="#56cc9f" stroke="#3f9f7c" stroke-width="0.5"/><polygon points="44.0,312.2 43.3,313.8 42.3,313.7 41.6,312.6 43.0,311.5" fill="#56cc9f" stroke="#3f9f7c" stroke-width="0.5"/><polygon points="51.1,307.2 50.2,308.2 48.7,307.9 48.8,306.6 49.3,305.9 50.5,306.0" fill="#56cc9f" stroke="#3f9f7c" stroke-width="0.5"/><polygon points="55.0,309.4 53.7,311.5 52.3,310.1 52.9,307.9 54.7,307.3" fill="#56cc9f" stroke="#3f9f7c" stroke-width="0.5"/><polygon points="60.1,268.0 58.6,268.8 56.6,267.1 58.1,266.2" fill="#56cc9f" stroke="#3f9f7c" stroke-width="0.5"/><polygon points="70.2,268.2 69.9,268.9 68.6,269.0 68.5,268.2 68.7,267.8 69.5,267.5" fill="#56cc9f" stroke="#3f9f7c" stroke-width="0.5"/><polygon points="79.0,269.0 77.5,270.3 76.5,269.5 77.6,267.7" fill="#56cc9f" stroke="#3f9f7c" stroke-width="0.5"/><polygon points="87.8,269.6 86.7,270.4 85.5,269.3 86.0,268.1 87.7,268.2" fill="#56cc9f" stroke="#3f9f7c" stroke-width="0.5"/><polygon points="101.0,267.0 99.8,271.3 96.6,271.5 95.1,268.0 97.5,266.5" fill="#56cc9f" stroke="#3f9f7c" stroke-width="0.5"/><polygon points="58.2,278.0 57.2,278.8 55.9,278.0 55.9,276.9 56.7,276.3 58.3,277.0" fill="#56cc9f" stroke="#3f9f7c" stroke-width="0.5"/><polygon points="75.0,276.1 73.6,278.4 72.4,276.6 73.9,274.8" fill="#56cc9f" stroke="#3f9f7c" stroke-width="0.5"/><polygon points="70.3,280.6 69.3,284.7 64.9,283.6 66.9,279.1" fill="#56cc9f" stroke="#3f9f7c" stroke-width="0.5"/><polygon points="88.0,281.3 86.2,282.0 85.4,280.9 86.7,279.8" fill="#56cc9f" stroke="#3f9f7c" stroke-width="0.5"/><polygon points="98.8,281.1 98.0,282.5 96.3,281.4 97.5,280.0" fill="#56cc9f" stroke="#3f9f7c" stroke-width="0.5"/><polygon points="80.6,282.6 80.7,284.2 78.4,284.7 77.3,283.7 78.9,282.4" fill="#56cc9f" stroke="#3f9f7c" stroke-width="0.5"/><polygon points="62.7,289.5 62.1,291.5 57.6,290.2 57.7,288.1 61.2,288.2" fill="#56cc9f" stroke="#3f9f7c" stroke-width="0.5"/><polygon points="87.3,288.9 86.4,289.8 84.9,290.0 83.3,288.8 84.6,287.7 85.7,287.6" fill="#56cc9f" stroke="#3f9f7c" stroke-width="0.5"/><polygon points="76.3,293.1 76.3,294.7 71.5,297.3 69.9,296.5 70.9,292.5 73.3,291.8" fill="#56cc9f" stroke="#3f9f7c" stroke-width="0.5"/><polygon points="93.0,294.5 91.0,295.5 90.1,294.6 89.8,293.2 92.9,293.5" fill="#56cc9f" stroke="#3f9f7c" stroke-width="0.5"/><polygon points="100.2,297.7 99.2,298.9 97.8,297.7 98.4,295.5" fill="#56cc9f" stroke="#3f9f7c" stroke-width="0.5"/><polygon points="58.6,305.1 57.4,307.4 55.8,307.5 54.4,306.5 54.6,304.4 56.9,304.0" fill="#56cc9f" stroke="#3f9f7c" stroke-width="0.5"/><polygon points="65.8,302.1 65.3,303.6 63.4,303.0 64.5,301.5" fill="#56cc9f" stroke="#3f9f7c" stroke-width="0.5"/><polygon points="82.0,306.6 81.6,308.0 80.4,308.2 79.5,306.8 79.9,305.1 80.9,304.7" fill="#56cc9f" stroke="#3f9f7c" stroke-width="0.5"/><polygon points="95.6,304.6 94.9,306.1 93.5,305.4 94.2,303.9" fill="#56cc9f" stroke="#3f9f7c" stroke-width="0.5"/><polygon points="78.3,316.5 74.1,316.5 71.8,314.0 76.3,313.0" fill="#56cc9f" stroke="#3f9f7c" stroke-width="0.5"/><polygon points="93.2,314.7 92.0,315.9 89.6,314.8 90.7,313.7" fill="#56cc9f" stroke="#3f9f7c" stroke-width="0.5"/><rect x="3.8" y="216.3" width="16" height="17" fill="#fff" stroke="#8a97cf" stroke-width="1"/><text class="sa" x="11.8" y="228.20000000000002" font-size="11" font-weight="bold" text-anchor="middle" fill="#111">(c)</text><text class="tn" x="61.2" y="229.5" font-size="10.8" font-weight="bold" fill="#111" stroke="#111" stroke-width="0.3" textLength="38.7" lengthAdjust="spacingAndGlyphs">V<tspan font-size="6.7" dy="2.6">f</tspan><tspan dy="-2.6"> = 15%</tspan></text><text class="tn" x="67.10000000000001" y="303.4" font-size="10.5" font-weight="bold" fill="#111" textLength="27.2" lengthAdjust="spacingAndGlyphs">75 μm</text><rect x="67" y="309.5" width="28.5" height="1.6" fill="#000"/><rect x="132.3" y="12.3" width="16" height="11.5" fill="#d6d6d6" stroke="#555" stroke-width="0.9"/><rect x="173.2" y="12.3" width="16" height="12" fill="#66cdaa" stroke="#555" stroke-width="0.9"/><text class="sa" x="123" y="35.8" font-size="9.6" font-weight="bold" fill="#222" textLength="30.6" lengthAdjust="spacingAndGlyphs">6061Al</text><text class="sa" x="172.5" y="35.8" font-size="9.6" font-weight="bold" fill="#222" textLength="19.8" lengthAdjust="spacingAndGlyphs">SiCp</text><text class="tn" x="267.2" y="21.8" font-size="11.7" font-weight="bold" fill="#111" textLength="67.6" lengthAdjust="spacingAndGlyphs">Model Status:</text><text class="tn" x="266.8" y="34" font-size="10.2" font-weight="bold" fill="#111" textLength="157.8" lengthAdjust="spacingAndGlyphs">Symmetrical boundary conditions &amp;</text><text class="tn" x="266.8" y="45.4" font-size="10.2" font-weight="bold" fill="#111">medium interface strength</text><text class="sa" x="130.4" y="77.5" font-size="11" font-weight="bold" fill="#222" textLength="15.2" lengthAdjust="spacingAndGlyphs">(d)</text><polyline points="165.5,292.0 165.7,290.3 165.9,288.0 166.1,285.4 166.4,282.4 166.7,279.2 167.0,275.9 167.3,272.4 167.7,268.9 168.0,265.6 168.3,262.3 168.6,259.4 168.9,256.7 169.2,254.3 169.4,252.1 169.7,250.0 169.9,248.0 170.2,246.1 170.5,244.2 170.7,242.4 171.0,240.5 171.2,238.7 171.5,236.7 171.8,234.7 172.1,232.6 172.4,230.4 172.7,228.0 173.1,225.6 173.4,223.1 173.8,220.5 174.2,218.0 174.5,215.5 174.9,213.1 175.2,210.7 175.6,208.4 175.9,206.3 176.2,204.4 176.5,202.6 176.8,200.9 177.0,199.4 177.2,197.9 177.5,196.5 177.7,195.2 177.9,194.0 178.2,192.8 178.4,191.6 178.6,190.5 178.9,189.4 179.2,188.3 179.5,187.2 179.8,186.2 180.2,185.2 180.5,184.3 180.9,183.4 181.2,182.6 181.6,181.8 182.0,181.0 182.3,180.3 182.7,179.6 183.0,178.9 183.3,178.3 183.6,177.7 183.9,177.2 184.1,176.7 184.4,176.3 184.6,175.9 184.8,175.6 185.1,175.2 185.3,174.9 185.5,174.6 185.8,174.3 186.0,173.9 186.3,173.6 186.6,173.3 186.9,172.9 187.1,172.6 187.4,172.3 187.7,172.0 188.0,171.7 188.3,171.4 188.6,171.2 188.9,170.9 189.2,170.6 189.5,170.3 189.8,170.0 190.1,169.7 190.4,169.4 190.7,169.2 191.0,168.9 191.3,168.7 191.6,168.4 191.9,168.1 192.2,167.8 192.5,167.5 192.8,167.2 193.2,166.9 193.6,166.5 194.0,166.1 194.5,165.6 194.9,165.2 195.4,164.6 195.9,164.1 196.4,163.6 196.9,163.1 197.4,162.5 197.9,162.0 198.4,161.5 198.9,161.0 199.4,160.5 199.8,160.1 200.3,159.6 200.6,159.2 201.0,158.9 201.4,158.5 201.8,158.1 202.2,157.7 202.6,157.3 203.0,156.9 203.5,156.5 204.1,156.0 204.7,155.5 205.4,155.0 206.1,154.4 206.9,153.8 207.8,153.2 208.7,152.5 209.6,151.9 210.5,151.2 211.4,150.5 212.3,149.8 213.2,149.1 214.1,148.5 215.0,147.8 215.8,147.1 216.7,146.4 217.5,145.7 218.4,145.0 219.2,144.3 220.0,143.6 220.8,142.9 221.7,142.2 222.5,141.5 223.3,140.8 224.2,140.2 225.0,139.5 225.8,138.8 226.7,138.2 227.5,137.5 228.3,136.8 229.2,136.2 230.0,135.5 230.8,134.9 231.7,134.3 232.5,133.7 233.3,133.1 234.2,132.5 235.0,132.0 235.8,131.5 236.7,131.0 237.6,130.5 238.5,130.1 239.4,129.6 240.3,129.2 241.2,128.8 242.0,128.4 242.9,128.0 243.6,127.7 244.3,127.3 245.0,127.0 245.6,126.7 246.1,126.4 246.6,126.2 247.0,126.0 247.4,125.8 247.8,125.6 248.2,125.5 248.5,125.3 248.9,125.1 249.2,124.9 249.6,124.7 250.0,124.5 250.4,124.3 250.9,124.0 251.3,123.7 251.7,123.4 252.2,123.1 252.6,122.8 253.0,122.5 253.4,122.2 253.9,122.0 254.3,121.8 254.6,121.6 255.0,121.5 255.3,121.5 255.7,121.5 256.0,121.5 256.3,121.6 256.6,121.8 256.8,121.9 257.1,122.1 257.4,122.2 257.7,122.3 257.9,122.4 258.2,122.5 258.5,122.5 258.8,122.5 259.0,122.4 259.2,122.3 259.3,122.2 259.5,122.1 259.7,121.9 259.9,121.8 260.1,121.6 260.5,121.4 260.9,121.2 261.4,121.0 262.0,120.8 262.7,120.6 263.6,120.3 264.5,120.0 265.6,119.7 266.6,119.4 267.8,119.1 269.0,118.8 270.2,118.5 271.4,118.1 272.6,117.8 273.8,117.5 275.0,117.2 276.1,116.9 277.2,116.6 278.3,116.3 279.4,116.0 280.4,115.7 281.6,115.4 282.7,115.1 284.0,114.8 285.3,114.5 286.7,114.2 288.3,113.9 290.0,113.7 291.9,113.5 293.9,113.2 296.1,113.0 298.4,112.8 300.7,112.6 303.2,112.4 305.7,112.2 308.2,112.0 310.7,111.8 313.2,111.7 315.6,111.5 318.0,111.4 320.4,111.3 322.8,111.2 325.3,111.1 327.9,111.1 330.4,111.0 332.9,111.0 335.3,111.0 337.7,111.0 340.0,111.0 342.1,111.0 344.2,111.0 346.0,111.0 347.7,111.0 349.1,111.0 350.5,111.1 351.7,111.1 352.8,111.2 353.9,111.2 354.9,111.3 355.9,111.3 356.8,111.4 357.8,111.5 358.9,111.5 360.0,111.6 361.2,111.7 362.4,111.7 363.6,111.8 364.9,111.9 366.2,111.9 367.4,112.0 368.6,112.1 369.8,112.2 370.9,112.3 372.0,112.3 373.1,112.4 374.0,112.5 374.8,112.6 375.6,112.6 376.3,112.7 376.9,112.7 377.4,112.8 378.0,112.9 378.5,112.9 379.1,113.0 379.6,113.1 380.3,113.2 380.9,113.3 381.7,113.5 382.6,113.7 383.5,113.9 384.5,114.2 385.5,114.4 386.6,114.7 387.6,115.0 388.7,115.3 389.8,115.6 390.8,115.9 391.8,116.2 392.7,116.4 393.5,116.7 394.3,117.0 395.0,117.2 395.8,117.5 396.4,117.8 397.1,118.1 397.7,118.3 398.3,118.6 398.9,118.9 399.4,119.1 399.8,119.3 400.2,119.5 400.5,119.6" fill="none" stroke="#404040" stroke-width="1" stroke-linejoin="round"/><rect x="163.9" y="288.0" width="3.7" height="3.7" fill="#404040"/><rect x="167.0" y="255.3" width="3.7" height="3.7" fill="#404040"/><rect x="170.2" y="231.5" width="3.7" height="3.7" fill="#404040"/><rect x="173.3" y="209.4" width="3.7" height="3.7" fill="#404040"/><rect x="176.5" y="190.2" width="3.7" height="3.7" fill="#404040"/><rect x="179.6" y="180.3" width="3.7" height="3.7" fill="#404040"/><rect x="182.8" y="174.1" width="3.7" height="3.7" fill="#404040"/><rect x="185.9" y="170.1" width="3.7" height="3.7" fill="#404040"/><rect x="189.1" y="167.1" width="3.7" height="3.7" fill="#404040"/><rect x="192.2" y="164.2" width="3.7" height="3.7" fill="#404040"/><rect x="195.4" y="160.9" width="3.7" height="3.7" fill="#404040"/><rect x="198.5" y="157.7" width="3.7" height="3.7" fill="#404040"/><rect x="201.7" y="154.7" width="3.7" height="3.7" fill="#404040"/><rect x="204.8" y="152.1" width="3.7" height="3.7" fill="#404040"/><rect x="208.0" y="149.8" width="3.7" height="3.7" fill="#404040"/><rect x="211.1" y="147.5" width="3.7" height="3.7" fill="#404040"/><rect x="214.3" y="145.1" width="3.7" height="3.7" fill="#404040"/><rect x="217.4" y="142.5" width="3.7" height="3.7" fill="#404040"/><rect x="220.6" y="139.8" width="3.7" height="3.7" fill="#404040"/><rect x="223.7" y="137.2" width="3.7" height="3.7" fill="#404040"/><rect x="226.9" y="134.7" width="3.7" height="3.7" fill="#404040"/><rect x="230.0" y="132.3" width="3.7" height="3.7" fill="#404040"/><rect x="233.2" y="130.2" width="3.7" height="3.7" fill="#404040"/><rect x="236.3" y="128.4" width="3.7" height="3.7" fill="#404040"/><rect x="239.5" y="126.9" width="3.7" height="3.7" fill="#404040"/><rect x="242.6" y="125.4" width="3.7" height="3.7" fill="#404040"/><rect x="245.8" y="123.9" width="3.7" height="3.7" fill="#404040"/><rect x="248.9" y="122.2" width="3.7" height="3.7" fill="#404040"/><rect x="252.1" y="120.1" width="3.7" height="3.7" fill="#404040"/><rect x="255.2" y="120.2" width="3.7" height="3.7" fill="#404040"/><rect x="258.4" y="119.7" width="3.7" height="3.7" fill="#404040"/><rect x="261.5" y="118.5" width="3.7" height="3.7" fill="#404040"/><rect x="264.7" y="117.6" width="3.7" height="3.7" fill="#404040"/><rect x="267.8" y="116.8" width="3.7" height="3.7" fill="#404040"/><rect x="271.0" y="115.9" width="3.7" height="3.7" fill="#404040"/><rect x="274.1" y="115.1" width="3.7" height="3.7" fill="#404040"/><rect x="277.3" y="114.2" width="3.7" height="3.7" fill="#404040"/><rect x="280.4" y="113.4" width="3.7" height="3.7" fill="#404040"/><rect x="283.6" y="112.6" width="3.7" height="3.7" fill="#404040"/><rect x="286.7" y="112.1" width="3.7" height="3.7" fill="#404040"/><rect x="289.9" y="111.6" width="3.7" height="3.7" fill="#404040"/><rect x="293.0" y="111.3" width="3.7" height="3.7" fill="#404040"/><rect x="296.2" y="111.0" width="3.7" height="3.7" fill="#404040"/><rect x="299.3" y="110.7" width="3.7" height="3.7" fill="#404040"/><rect x="302.5" y="110.4" width="3.7" height="3.7" fill="#404040"/><rect x="305.6" y="110.2" width="3.7" height="3.7" fill="#404040"/><rect x="308.8" y="110.0" width="3.7" height="3.7" fill="#404040"/><rect x="311.9" y="109.8" width="3.7" height="3.7" fill="#404040"/><rect x="315.1" y="109.6" width="3.7" height="3.7" fill="#404040"/><rect x="318.2" y="109.5" width="3.7" height="3.7" fill="#404040"/><rect x="321.4" y="109.4" width="3.7" height="3.7" fill="#404040"/><rect x="324.5" y="109.3" width="3.7" height="3.7" fill="#404040"/><rect x="327.7" y="109.2" width="3.7" height="3.7" fill="#404040"/><rect x="330.8" y="109.2" width="3.7" height="3.7" fill="#404040"/><rect x="334.0" y="109.2" width="3.7" height="3.7" fill="#404040"/><rect x="337.1" y="109.1" width="3.7" height="3.7" fill="#404040"/><rect x="340.3" y="109.1" width="3.7" height="3.7" fill="#404040"/><rect x="343.4" y="109.2" width="3.7" height="3.7" fill="#404040"/><rect x="346.6" y="109.2" width="3.7" height="3.7" fill="#404040"/><rect x="349.7" y="109.3" width="3.7" height="3.7" fill="#404040"/><rect x="352.9" y="109.4" width="3.7" height="3.7" fill="#404040"/><rect x="356.0" y="109.6" width="3.7" height="3.7" fill="#404040"/><rect x="359.2" y="109.8" width="3.7" height="3.7" fill="#404040"/><rect x="362.3" y="110.0" width="3.7" height="3.7" fill="#404040"/><rect x="365.5" y="110.2" width="3.7" height="3.7" fill="#404040"/><rect x="368.6" y="110.4" width="3.7" height="3.7" fill="#404040"/><rect x="371.8" y="110.6" width="3.7" height="3.7" fill="#404040"/><rect x="374.9" y="110.9" width="3.7" height="3.7" fill="#404040"/><rect x="378.1" y="111.3" width="3.7" height="3.7" fill="#404040"/><rect x="381.2" y="112.0" width="3.7" height="3.7" fill="#404040"/><rect x="384.4" y="112.8" width="3.7" height="3.7" fill="#404040"/><rect x="387.5" y="113.6" width="3.7" height="3.7" fill="#404040"/><rect x="390.7" y="114.5" width="3.7" height="3.7" fill="#404040"/><rect x="393.8" y="115.6" width="3.7" height="3.7" fill="#404040"/><rect x="397.0" y="117.0" width="3.7" height="3.7" fill="#404040"/><rect x="398.7" y="117.8" width="3.7" height="3.7" fill="#404040"/><polyline points="165.3,292.0 165.4,290.0 165.6,287.5 165.9,284.5 166.1,281.1 166.4,277.4 166.7,273.6 167.0,269.7 167.3,265.7 167.6,261.9 167.8,258.3 168.1,255.0 168.4,252.1 168.7,249.5 168.9,247.2 169.2,244.9 169.4,242.9 169.7,240.9 169.9,239.0 170.2,237.2 170.5,235.4 170.7,233.5 171.0,231.6 171.2,229.7 171.5,227.6 171.8,225.4 172.0,223.1 172.3,220.8 172.5,218.4 172.8,216.0 173.0,213.6 173.3,211.2 173.5,208.9 173.8,206.7 174.1,204.5 174.4,202.5 174.7,200.7 175.0,199.0 175.3,197.4 175.7,196.0 176.0,194.6 176.4,193.3 176.8,192.1 177.1,190.9 177.5,189.7 177.9,188.6 178.3,187.5 178.6,186.4 179.0,185.3 179.4,184.2 179.7,183.1 180.1,182.1 180.5,181.1 180.9,180.1 181.2,179.2 181.6,178.2 182.0,177.3 182.4,176.4 182.8,175.4 183.2,174.5 183.6,173.5 184.0,172.5 184.4,171.5 184.9,170.4 185.3,169.4 185.7,168.4 186.2,167.3 186.6,166.3 187.0,165.3 187.5,164.3 188.0,163.3 188.4,162.4 188.9,161.5 189.4,160.7 189.8,159.9 190.3,159.1 190.7,158.4 191.2,157.7 191.7,157.0 192.1,156.3 192.6,155.6 193.2,154.9 193.7,154.1 194.4,153.3 195.0,152.5 195.7,151.6 196.4,150.7 197.2,149.7 198.0,148.7 198.9,147.6 199.8,146.6 200.6,145.6 201.5,144.5 202.4,143.6 203.3,142.7 204.2,141.8 205.0,141.0 205.8,140.3 206.7,139.6 207.5,139.0 208.3,138.5 209.2,137.9 210.0,137.4 210.8,137.0 211.7,136.5 212.5,136.0 213.3,135.6 214.2,135.1 215.0,134.6 215.8,134.1 216.7,133.6 217.5,133.1 218.3,132.7 219.2,132.2 220.0,131.7 220.8,131.3 221.7,130.8 222.5,130.4 223.3,129.9 224.2,129.5 225.0,129.0 225.8,128.5 226.7,128.1 227.5,127.6 228.3,127.1 229.2,126.7 230.0,126.2 230.8,125.8 231.7,125.3 232.5,124.8 233.3,124.4 234.2,123.9 235.0,123.5 235.8,123.1 236.7,122.6 237.5,122.2 238.3,121.7 239.2,121.3 240.0,120.9 240.8,120.5 241.7,120.0 242.5,119.6 243.3,119.2 244.2,118.9 245.0,118.5 245.8,118.2 246.7,117.8 247.6,117.5 248.4,117.2 249.3,116.9 250.2,116.6 251.0,116.3 251.9,116.0 252.7,115.8 253.5,115.5 254.3,115.3 255.0,115.0 255.7,114.8 256.3,114.5 256.8,114.3 257.3,114.1 257.8,113.9 258.3,113.8 258.8,113.6 259.3,113.4 259.9,113.2 260.5,113.0 261.2,112.7 262.0,112.5 262.9,112.2 263.8,112.0 264.8,111.7 265.8,111.3 266.9,111.0 268.0,110.7 269.1,110.4 270.3,110.1 271.5,109.8 272.6,109.5 273.8,109.2 275.0,109.0 276.1,108.8 277.2,108.6 278.3,108.4 279.4,108.2 280.4,108.1 281.6,107.9 282.7,107.8 284.0,107.7 285.3,107.6 286.7,107.4 288.3,107.3 290.0,107.2 291.9,107.1 293.9,106.9 296.1,106.8 298.4,106.7 300.8,106.6 303.3,106.4 305.8,106.3 308.3,106.3 310.8,106.2 313.3,106.2 315.7,106.2 318.0,106.2 320.3,106.3 322.6,106.4 325.0,106.6 327.3,106.8 329.7,107.0 332.0,107.2 334.3,107.5 336.5,107.7 338.6,107.9 340.5,108.1 342.3,108.3 344.0,108.5 345.5,108.6 346.9,108.8 348.1,108.9 349.2,109.0 350.2,109.0 351.2,109.1 352.0,109.2 352.8,109.3 353.6,109.3 354.3,109.4 355.0,109.5 355.7,109.6 356.3,109.7 356.9,109.8 357.4,109.8 357.8,109.9 358.2,110.0 358.5,110.0 358.8,110.1 359.1,110.2 359.4,110.3 359.7,110.5 360.0,110.6 360.4,110.8 360.8,111.0 361.2,111.3 361.6,111.6 362.0,111.9 362.4,112.2 362.8,112.5 363.2,112.8 363.6,113.2 364.0,113.5 364.4,113.8 364.8,114.1 365.1,114.3 365.4,114.5 365.8,114.7 366.1,114.8 366.4,115.0 366.6,115.1 366.9,115.2 367.2,115.4 367.5,115.5 367.8,115.6 368.0,115.8 368.3,115.9 368.6,116.1 368.9,116.3 369.2,116.6 369.6,116.8 369.9,117.1 370.2,117.4 370.6,117.7 370.9,117.9 371.2,118.2 371.5,118.5 371.7,118.7 371.9,118.9 372.1,119.0" fill="none" stroke="#f53b3b" stroke-width="1" stroke-linejoin="round"/><circle cx="165.3" cy="292.0" r="2.2" fill="#f53b3b"/><circle cx="168.4" cy="252.1" r="2.2" fill="#f53b3b"/><circle cx="171.5" cy="227.6" r="2.2" fill="#f53b3b"/><circle cx="174.6" cy="201.3" r="2.2" fill="#f53b3b"/><circle cx="177.7" cy="189.2" r="2.2" fill="#f53b3b"/><circle cx="180.8" cy="180.3" r="2.2" fill="#f53b3b"/><circle cx="183.9" cy="172.8" r="2.2" fill="#f53b3b"/><circle cx="187.0" cy="165.4" r="2.2" fill="#f53b3b"/><circle cx="190.1" cy="159.4" r="2.2" fill="#f53b3b"/><circle cx="193.2" cy="154.8" r="2.2" fill="#f53b3b"/><circle cx="196.3" cy="150.8" r="2.2" fill="#f53b3b"/><circle cx="199.4" cy="147.0" r="2.2" fill="#f53b3b"/><circle cx="202.5" cy="143.5" r="2.2" fill="#f53b3b"/><circle cx="205.6" cy="140.5" r="2.2" fill="#f53b3b"/><circle cx="208.7" cy="138.2" r="2.2" fill="#f53b3b"/><circle cx="211.8" cy="136.4" r="2.2" fill="#f53b3b"/><circle cx="214.9" cy="134.7" r="2.2" fill="#f53b3b"/><circle cx="218.0" cy="132.9" r="2.2" fill="#f53b3b"/><circle cx="221.1" cy="131.1" r="2.2" fill="#f53b3b"/><circle cx="224.2" cy="129.4" r="2.2" fill="#f53b3b"/><circle cx="227.3" cy="127.7" r="2.2" fill="#f53b3b"/><circle cx="230.4" cy="126.0" r="2.2" fill="#f53b3b"/><circle cx="233.5" cy="124.3" r="2.2" fill="#f53b3b"/><circle cx="236.6" cy="122.7" r="2.2" fill="#f53b3b"/><circle cx="239.7" cy="121.0" r="2.2" fill="#f53b3b"/><circle cx="242.8" cy="119.5" r="2.2" fill="#f53b3b"/><circle cx="245.9" cy="118.1" r="2.2" fill="#f53b3b"/><circle cx="249.0" cy="117.0" r="2.2" fill="#f53b3b"/><circle cx="252.1" cy="116.0" r="2.2" fill="#f53b3b"/><circle cx="255.2" cy="114.9" r="2.2" fill="#f53b3b"/><circle cx="258.3" cy="113.8" r="2.2" fill="#f53b3b"/><circle cx="261.4" cy="112.7" r="2.2" fill="#f53b3b"/><circle cx="264.5" cy="111.7" r="2.2" fill="#f53b3b"/><circle cx="267.6" cy="110.8" r="2.2" fill="#f53b3b"/><circle cx="270.7" cy="110.0" r="2.2" fill="#f53b3b"/><circle cx="273.8" cy="109.2" r="2.2" fill="#f53b3b"/><circle cx="276.9" cy="108.7" r="2.2" fill="#f53b3b"/><circle cx="280.0" cy="108.2" r="2.2" fill="#f53b3b"/><circle cx="283.1" cy="107.8" r="2.2" fill="#f53b3b"/><circle cx="286.2" cy="107.5" r="2.2" fill="#f53b3b"/><circle cx="289.3" cy="107.2" r="2.2" fill="#f53b3b"/><circle cx="292.4" cy="107.0" r="2.2" fill="#f53b3b"/><circle cx="295.5" cy="106.9" r="2.2" fill="#f53b3b"/><circle cx="298.6" cy="106.7" r="2.2" fill="#f53b3b"/><circle cx="301.7" cy="106.5" r="2.2" fill="#f53b3b"/><circle cx="304.8" cy="106.4" r="2.2" fill="#f53b3b"/><circle cx="307.9" cy="106.3" r="2.2" fill="#f53b3b"/><circle cx="311.0" cy="106.2" r="2.2" fill="#f53b3b"/><circle cx="314.1" cy="106.2" r="2.2" fill="#f53b3b"/><circle cx="317.2" cy="106.2" r="2.2" fill="#f53b3b"/><circle cx="320.3" cy="106.3" r="2.2" fill="#f53b3b"/><circle cx="323.4" cy="106.5" r="2.2" fill="#f53b3b"/><circle cx="326.5" cy="106.7" r="2.2" fill="#f53b3b"/><circle cx="329.6" cy="107.0" r="2.2" fill="#f53b3b"/><circle cx="332.7" cy="107.3" r="2.2" fill="#f53b3b"/><circle cx="335.8" cy="107.6" r="2.2" fill="#f53b3b"/><circle cx="338.9" cy="108.0" r="2.2" fill="#f53b3b"/><circle cx="342.0" cy="108.3" r="2.2" fill="#f53b3b"/><circle cx="345.1" cy="108.6" r="2.2" fill="#f53b3b"/><circle cx="348.2" cy="108.9" r="2.2" fill="#f53b3b"/><circle cx="351.3" cy="109.1" r="2.2" fill="#f53b3b"/><circle cx="354.4" cy="109.4" r="2.2" fill="#f53b3b"/><circle cx="357.5" cy="109.9" r="2.2" fill="#f53b3b"/><circle cx="360.6" cy="110.9" r="2.2" fill="#f53b3b"/><circle cx="363.7" cy="113.2" r="2.2" fill="#f53b3b"/><circle cx="366.8" cy="115.2" r="2.2" fill="#f53b3b"/><circle cx="369.9" cy="117.1" r="2.2" fill="#f53b3b"/><circle cx="372.1" cy="119.0" r="2.2" fill="#f53b3b"/><polyline points="165.3,292.0 165.4,290.0 165.6,287.5 165.9,284.5 166.1,281.1 166.4,277.4 166.7,273.6 167.0,269.7 167.3,265.7 167.6,261.9 167.8,258.3 168.1,255.0 168.4,252.1 168.7,249.5 168.9,247.2 169.2,244.9 169.4,242.9 169.7,240.9 169.9,239.0 170.2,237.2 170.5,235.4 170.7,233.5 171.0,231.6 171.2,229.7 171.5,227.6 171.8,225.4 172.0,223.1 172.3,220.8 172.6,218.5 172.8,216.1 173.1,213.7 173.4,211.3 173.6,209.0 173.9,206.8 174.2,204.7 174.4,202.6 174.7,200.7 175.0,198.9 175.2,197.2 175.5,195.7 175.7,194.1 176.0,192.7 176.2,191.3 176.5,190.0 176.7,188.7 177.0,187.4 177.2,186.1 177.5,184.7 177.7,183.4 177.9,182.0 178.2,180.7 178.4,179.3 178.7,177.9 178.9,176.6 179.1,175.3 179.4,174.0 179.6,172.7 179.9,171.5 180.1,170.3 180.4,169.2 180.7,168.2 181.0,167.2 181.3,166.4 181.6,165.5 182.0,164.8 182.3,164.1 182.6,163.4 183.0,162.7 183.3,162.1 183.7,161.4 184.1,160.8 184.4,160.1 184.8,159.4 185.2,158.7 185.5,157.9 185.9,157.2 186.3,156.5 186.7,155.8 187.1,155.1 187.5,154.4 187.9,153.6 188.3,152.9 188.7,152.1 189.1,151.4 189.5,150.6 189.9,149.8 190.3,149.0 190.7,148.1 191.1,147.3 191.5,146.4 191.9,145.6 192.3,144.7 192.8,143.8 193.3,143.0 193.8,142.1 194.4,141.3 195.0,140.5 195.7,139.7 196.4,138.9 197.2,138.1 198.0,137.3 198.8,136.5 199.7,135.7 200.6,135.0 201.5,134.2 202.4,133.5 203.3,132.8 204.2,132.1 205.0,131.5 205.8,130.9 206.7,130.3 207.5,129.8 208.3,129.3 209.2,128.8 210.0,128.4 210.8,127.9 211.7,127.5 212.5,127.1 213.3,126.7 214.2,126.2 215.0,125.8 215.8,125.4 216.7,124.9 217.5,124.5 218.3,124.1 219.2,123.7 220.0,123.3 220.8,122.9 221.7,122.5 222.5,122.1 223.3,121.7 224.2,121.4 225.0,121.0 225.8,120.7 226.7,120.4 227.5,120.1 228.3,119.8 229.2,119.5 230.0,119.2 230.8,118.9 231.7,118.7 232.5,118.4 233.3,118.1 234.2,117.8 235.0,117.5 235.8,117.2 236.7,116.8 237.6,116.4 238.5,116.1 239.4,115.7 240.3,115.3 241.2,114.9 242.0,114.5 242.9,114.2 243.6,113.8 244.3,113.5 245.0,113.2 245.6,112.9 246.1,112.7 246.6,112.5 247.0,112.2 247.4,112.0 247.8,111.8 248.2,111.7 248.5,111.5 248.9,111.3 249.2,111.1 249.6,111.0 250.0,110.8 250.4,110.6 250.8,110.5 251.2,110.3 251.6,110.2 252.0,110.0 252.4,109.9 252.8,109.7 253.2,109.6 253.6,109.4 254.1,109.3 254.5,109.2 255.0,109.0 255.5,108.8 256.0,108.7 256.5,108.5 257.0,108.3 257.5,108.2 258.0,108.0 258.6,107.8 259.1,107.7 259.8,107.5 260.5,107.3 261.2,107.2 262.0,107.0 262.9,106.8 263.8,106.7 264.8,106.6 265.8,106.4 266.9,106.3 268.0,106.1 269.1,106.0 270.3,105.9 271.5,105.7 272.6,105.6 273.8,105.4 275.0,105.3 276.1,105.1 277.2,105.0 278.3,104.8 279.4,104.7 280.4,104.5 281.6,104.3 282.7,104.2 284.0,104.0 285.3,103.8 286.7,103.7 288.3,103.5 290.0,103.4 291.9,103.3 293.9,103.1 296.1,103.0 298.4,102.8 300.8,102.7 303.3,102.5 305.8,102.4 308.3,102.3 310.8,102.2 313.3,102.1 315.7,102.1 318.0,102.1 320.3,102.1 322.6,102.2 325.0,102.3 327.4,102.4 329.7,102.5 332.1,102.6 334.3,102.8 336.5,103.0 338.6,103.1 340.6,103.3 342.4,103.5 344.0,103.6 345.5,103.7 346.8,103.9 348.0,104.0 349.1,104.2 350.1,104.4 351.0,104.5 351.8,104.7 352.6,104.9 353.2,105.0 353.9,105.2 354.5,105.3 355.1,105.5 355.6,105.6 356.1,105.8 356.4,105.9 356.7,106.0 356.9,106.1 357.1,106.3 357.2,106.4 357.4,106.5 357.5,106.7 357.7,106.9 357.9,107.1 358.1,107.3 358.4,107.6 358.7,107.8 358.9,108.1 359.2,108.5 359.5,108.8 359.8,109.2 360.1,109.5 360.4,109.9 360.7,110.3 361.0,110.7 361.3,111.0 361.6,111.4 361.9,111.8 362.2,112.1 362.5,112.5 362.7,112.8 363.0,113.2 363.3,113.5 363.6,113.9 363.9,114.3 364.2,114.7 364.5,115.1 364.8,115.6 365.1,116.1 365.4,116.7 365.8,117.3 366.2,118.0 366.6,118.7 367.0,119.4 367.4,120.2 367.8,120.9 368.1,121.6 368.4,122.3 368.7,122.8 369.0,123.3 369.2,123.7" fill="none" stroke="#2266e8" stroke-width="1" stroke-linejoin="round"/><polygon points="165.3,289.3 167.9,293.8 162.7,293.8" fill="#2266e8"/><polygon points="168.4,249.4 171.0,253.9 165.8,253.9" fill="#2266e8"/><polygon points="171.5,224.9 174.1,229.4 168.9,229.4" fill="#2266e8"/><polygon points="174.6,198.7 177.2,203.2 172.0,203.2" fill="#2266e8"/><polygon points="177.7,180.7 180.3,185.2 175.1,185.2" fill="#2266e8"/><polygon points="180.8,165.2 183.4,169.7 178.2,169.7" fill="#2266e8"/><polygon points="183.9,158.4 186.5,162.9 181.3,162.9" fill="#2266e8"/><polygon points="187.0,152.5 189.6,157.0 184.4,157.0" fill="#2266e8"/><polygon points="190.1,146.7 192.7,151.2 187.5,151.2" fill="#2266e8"/><polygon points="193.2,140.4 195.8,144.9 190.6,144.9" fill="#2266e8"/><polygon points="196.3,136.3 198.9,140.8 193.7,140.8" fill="#2266e8"/><polygon points="199.4,133.3 202.0,137.8 196.8,137.8" fill="#2266e8"/><polygon points="202.5,130.7 205.1,135.2 199.9,135.2" fill="#2266e8"/><polygon points="205.6,128.4 208.2,132.9 203.0,132.9" fill="#2266e8"/><polygon points="208.7,126.4 211.3,130.9 206.1,130.9" fill="#2266e8"/><polygon points="211.8,124.8 214.4,129.2 209.2,129.2" fill="#2266e8"/><polygon points="214.9,123.2 217.5,127.6 212.3,127.6" fill="#2266e8"/><polygon points="218.0,121.6 220.6,126.0 215.4,126.0" fill="#2266e8"/><polygon points="221.1,120.0 223.7,124.5 218.5,124.5" fill="#2266e8"/><polygon points="224.2,118.6 226.8,123.1 221.6,123.1" fill="#2266e8"/><polygon points="227.3,117.4 229.9,121.9 224.7,121.9" fill="#2266e8"/><polygon points="230.4,116.4 233.0,120.9 227.8,120.9" fill="#2266e8"/><polygon points="233.5,115.4 236.1,119.8 230.9,119.8" fill="#2266e8"/><polygon points="236.6,114.2 239.2,118.7 234.0,118.7" fill="#2266e8"/><polygon points="239.7,112.9 242.3,117.3 237.1,117.3" fill="#2266e8"/><polygon points="242.8,111.5 245.4,116.0 240.2,116.0" fill="#2266e8"/><polygon points="245.9,110.1 248.5,114.6 243.3,114.6" fill="#2266e8"/><polygon points="249.0,108.6 251.6,113.0 246.4,113.0" fill="#2266e8"/><polygon points="252.1,107.3 254.7,111.8 249.5,111.8" fill="#2266e8"/><polygon points="255.2,106.2 257.8,110.7 252.6,110.7" fill="#2266e8"/><polygon points="258.3,105.2 260.9,109.7 255.7,109.7" fill="#2266e8"/><polygon points="261.4,104.4 264.0,108.9 258.8,108.9" fill="#2266e8"/><polygon points="264.5,103.9 267.1,108.4 261.9,108.4" fill="#2266e8"/><polygon points="267.6,103.5 270.2,108.0 265.0,108.0" fill="#2266e8"/><polygon points="270.7,103.1 273.3,107.6 268.1,107.6" fill="#2266e8"/><polygon points="273.8,102.8 276.4,107.2 271.2,107.2" fill="#2266e8"/><polygon points="276.9,102.3 279.5,106.8 274.3,106.8" fill="#2266e8"/><polygon points="280.0,101.9 282.6,106.4 277.4,106.4" fill="#2266e8"/><polygon points="283.1,101.4 285.7,105.9 280.5,105.9" fill="#2266e8"/><polygon points="286.2,101.1 288.8,105.5 283.6,105.5" fill="#2266e8"/><polygon points="289.3,100.8 291.9,105.2 286.7,105.2" fill="#2266e8"/><polygon points="292.4,100.5 295.0,105.0 289.8,105.0" fill="#2266e8"/><polygon points="295.5,100.3 298.1,104.8 292.9,104.8" fill="#2266e8"/><polygon points="298.6,100.1 301.2,104.6 296.0,104.6" fill="#2266e8"/><polygon points="301.7,99.9 304.3,104.4 299.1,104.4" fill="#2266e8"/><polygon points="304.8,99.8 307.4,104.3 302.2,104.3" fill="#2266e8"/><polygon points="307.9,99.6 310.5,104.1 305.3,104.1" fill="#2266e8"/><polygon points="311.0,99.5 313.6,104.0 308.4,104.0" fill="#2266e8"/><polygon points="314.1,99.4 316.7,103.9 311.5,103.9" fill="#2266e8"/><polygon points="317.2,99.4 319.8,103.9 314.6,103.9" fill="#2266e8"/><polygon points="320.3,99.4 322.9,103.9 317.7,103.9" fill="#2266e8"/><polygon points="323.4,99.5 326.0,104.0 320.8,104.0" fill="#2266e8"/><polygon points="326.5,99.7 329.1,104.1 323.9,104.1" fill="#2266e8"/><polygon points="329.6,99.8 332.2,104.3 327.0,104.3" fill="#2266e8"/><polygon points="332.7,100.0 335.3,104.5 330.1,104.5" fill="#2266e8"/><polygon points="335.8,100.2 338.4,104.7 333.2,104.7" fill="#2266e8"/><polygon points="338.9,100.5 341.5,104.9 336.3,104.9" fill="#2266e8"/><polygon points="342.0,100.7 344.6,105.2 339.4,105.2" fill="#2266e8"/><polygon points="345.1,101.0 347.7,105.5 342.5,105.5" fill="#2266e8"/><polygon points="348.2,101.4 350.8,105.9 345.6,105.9" fill="#2266e8"/><polygon points="351.3,101.9 353.9,106.4 348.7,106.4" fill="#2266e8"/><polygon points="354.4,102.6 357.0,107.1 351.8,107.1" fill="#2266e8"/><polygon points="357.5,104.0 360.1,108.5 354.9,108.5" fill="#2266e8"/><polygon points="360.6,107.4 363.2,111.9 358.0,111.9" fill="#2266e8"/><polygon points="363.7,111.4 366.3,115.8 361.1,115.8" fill="#2266e8"/><polygon points="366.8,116.4 369.4,120.9 364.2,120.9" fill="#2266e8"/><polygon points="369.2,121.0 371.8,125.5 366.6,125.5" fill="#2266e8"/><polyline points="165.3,293.0 169.1,250.0 174.5,206.0 175.7,189.4 177.8,181.2 181.6,166.0 185.4,151.2 195.0,140.5 205.0,131.0 215.0,123.5 225.0,116.5 230.0,113.6 235.0,110.3 240.0,108.4 250.0,104.8 263.5,100.2 276.4,107.2 281.0,107.0 287.0,100.8 297.6,99.1 320.0,99.0 321.3,100.3 325.4,108.5 330.1,118.5 334.2,127.3 338.0,132.5 342.0,136.5 343.8,142.6 350.0,176.0 357.9,175.0 358.8,185.0 360.6,200.0 363.2,230.0 366.2,265.2" fill="none" stroke="#d9a62e" stroke-width="1.1" stroke-linejoin="round"/><polyline points="165.3,293.0 170.0,240.0 175.0,198.0 178.5,182.0 182.4,172.0 186.0,164.0 190.0,157.1 195.0,148.5 205.0,138.5 215.0,132.0 225.0,127.0 235.0,121.4 245.0,117.0 255.0,113.0 262.0,110.5 275.0,106.0 290.0,103.1 305.0,102.8 316.0,104.5 321.5,99.3 323.0,100.9 327.7,105.6 331.2,115.5 333.6,107.3 338.3,111.4 344.1,126.7 347.3,135.6 350.0,152.3 351.7,153.2 359.6,162.0 364.0,174.3 364.9,185.0 365.8,200.5 367.9,189.5 373.5,209.3 380.1,230.0 386.4,269.1" fill="none" stroke="#c084f0" stroke-width="1.1" stroke-linejoin="round"/><polyline points="165.3,293.0 170.0,245.0 175.0,200.0 181.0,183.0 184.8,176.0 189.5,169.0 194.8,163.0 199.5,156.0 205.0,149.5 215.0,141.0 225.0,133.0 235.0,127.0 245.0,122.3 255.0,118.5 265.7,113.5 280.0,110.0 290.0,107.8 318.0,105.6 330.0,102.5 346.0,101.8 354.3,102.6 355.7,109.1 359.2,135.0 362.3,151.4 371.1,176.0 379.9,158.4 381.6,185.0 382.9,200.0 385.9,230.0 388.0,264.4" fill="none" stroke="#3cb878" stroke-width="1.1" stroke-linejoin="round"/><rect x="165.0" y="84.6" width="265.8" height="209.00000000000003" fill="none" stroke="#111" stroke-width="1.6"/><line x1="165.0" y1="293.6" x2="169.0" y2="293.6" stroke="#111" stroke-width="1.2"/><text class="tn" x="161.4" y="297.5" font-size="11.7" font-weight="bold" text-anchor="end" fill="#111">0</text><line x1="165.0" y1="266.8" x2="167.5" y2="266.8" stroke="#111" stroke-width="1.2"/><line x1="165.0" y1="240.0" x2="169.0" y2="240.0" stroke="#111" stroke-width="1.2"/><text class="tn" x="161.4" y="243.9" font-size="11.7" font-weight="bold" text-anchor="end" fill="#111">100</text><line x1="165.0" y1="213.2" x2="167.5" y2="213.2" stroke="#111" stroke-width="1.2"/><line x1="165.0" y1="186.5" x2="169.0" y2="186.5" stroke="#111" stroke-width="1.2"/><text class="tn" x="161.4" y="190.4" font-size="11.7" font-weight="bold" text-anchor="end" fill="#111">200</text><line x1="165.0" y1="159.7" x2="167.5" y2="159.7" stroke="#111" stroke-width="1.2"/><line x1="165.0" y1="132.9" x2="169.0" y2="132.9" stroke="#111" stroke-width="1.2"/><text class="tn" x="161.4" y="136.8" font-size="11.7" font-weight="bold" text-anchor="end" fill="#111">300</text><line x1="165.0" y1="106.1" x2="167.5" y2="106.1" stroke="#111" stroke-width="1.2"/><line x1="165.0" y1="293.6" x2="165.0" y2="289.6" stroke="#111" stroke-width="1.2"/><text class="tn" x="165.3" y="307.6" font-size="11.9" font-weight="bold" text-anchor="middle" fill="#111">0.00</text><line x1="194.5" y1="293.6" x2="194.5" y2="291.1" stroke="#111" stroke-width="1.2"/><line x1="224.0" y1="293.6" x2="224.0" y2="289.6" stroke="#111" stroke-width="1.2"/><text class="tn" x="224.3" y="307.6" font-size="11.9" font-weight="bold" text-anchor="middle" fill="#111">0.02</text><line x1="253.4" y1="293.6" x2="253.4" y2="291.1" stroke="#111" stroke-width="1.2"/><line x1="282.9" y1="293.6" x2="282.9" y2="289.6" stroke="#111" stroke-width="1.2"/><text class="tn" x="283.2" y="307.6" font-size="11.9" font-weight="bold" text-anchor="middle" fill="#111">0.04</text><line x1="312.4" y1="293.6" x2="312.4" y2="291.1" stroke="#111" stroke-width="1.2"/><line x1="341.9" y1="293.6" x2="341.9" y2="289.6" stroke="#111" stroke-width="1.2"/><text class="tn" x="342.2" y="307.6" font-size="11.9" font-weight="bold" text-anchor="middle" fill="#111">0.06</text><line x1="371.4" y1="293.6" x2="371.4" y2="291.1" stroke="#111" stroke-width="1.2"/><line x1="400.8" y1="293.6" x2="400.8" y2="289.6" stroke="#111" stroke-width="1.2"/><text class="tn" x="401.1" y="307.6" font-size="11.9" font-weight="bold" text-anchor="middle" fill="#111">0.08</text><text class="tn" x="297.8" y="321.7" font-size="11.5" font-weight="bold" text-anchor="middle" fill="#111">Nominal Strain</text><text class="tn" transform="translate(139.3,244.3) rotate(-90)" x="0" y="0" font-size="11.5" font-weight="bold" fill="#111" textLength="124.6" lengthAdjust="spacingAndGlyphs">Nominal Stress<tspan font-family="Liberation Serif,Noto Serif CJK SC,serif">（</tspan>MPa<tspan font-family="Liberation Serif,Noto Serif CJK SC,serif">）</tspan></text><line x1="215.3" y1="175.9" x2="241.6" y2="175.9" stroke="#474747" stroke-width="1.3"/><rect x="227.0" y="174.1" width="3.6" height="3.6" fill="#474747"/><text class="tn" x="244" y="179.6" font-size="8.4" fill="#151515" stroke="#151515" stroke-width="0.18" textLength="68.2" lengthAdjust="spacingAndGlyphs">V<tspan font-size="8.4" dy="2.9">f</tspan><tspan dy="-2.9"> = 5%-experiment</tspan></text><line x1="215.3" y1="192.6" x2="241.6" y2="192.6" stroke="#f53b3b" stroke-width="1.3"/><circle cx="228.8" cy="192.6" r="2.2" fill="#f53b3b"/><text class="tn" x="244" y="196.3" font-size="8.4" fill="#151515" stroke="#151515" stroke-width="0.18" textLength="72.6" lengthAdjust="spacingAndGlyphs">V<tspan font-size="8.4" dy="2.9">f</tspan><tspan dy="-2.9"> = 10%-experiment</tspan></text><line x1="215.3" y1="209.5" x2="241.6" y2="209.5" stroke="#2266e8" stroke-width="1.3"/><polygon points="228.8,207.0 231.20000000000002,211.1 226.4,211.1" fill="#2266e8"/><text class="tn" x="244" y="213.2" font-size="8.4" fill="#151515" stroke="#151515" stroke-width="0.18" textLength="72.6" lengthAdjust="spacingAndGlyphs">V<tspan font-size="8.4" dy="2.9">f</tspan><tspan dy="-2.9"> = 15%-experiment</tspan></text><line x1="215.3" y1="241.5" x2="241.6" y2="241.5" stroke="#3cb878" stroke-width="1.3"/><text class="tn" x="244" y="245.2" font-size="8.4" fill="#151515" stroke="#151515" stroke-width="0.18" textLength="61" lengthAdjust="spacingAndGlyphs">V<tspan font-size="8.4" dy="2.9">f</tspan><tspan dy="-2.9"> = 5%- simulate</tspan></text><line x1="215.3" y1="258.6" x2="241.6" y2="258.6" stroke="#c084f0" stroke-width="1.3"/><text class="tn" x="244" y="262.3" font-size="8.4" fill="#151515" stroke="#151515" stroke-width="0.18" textLength="65.1" lengthAdjust="spacingAndGlyphs">V<tspan font-size="8.4" dy="2.9">f</tspan><tspan dy="-2.9"> = 10%- simulate</tspan></text><line x1="215.3" y1="275.4" x2="241.6" y2="275.4" stroke="#d9a62e" stroke-width="1.3"/><text class="tn" x="244" y="279.1" font-size="8.4" fill="#151515" stroke="#151515" stroke-width="0.18" textLength="65.1" lengthAdjust="spacingAndGlyphs">V<tspan font-size="8.4" dy="2.9">f</tspan><tspan dy="-2.9"> = 15%- simulate</tspan></text><clipPath id="ce"><rect x="441.5" y="4.1" width="106.4" height="93.8"/></clipPath><clipPath id="cf"><rect x="441.9" y="110.2" width="104.4" height="94.1"/></clipPath><clipPath id="cg"><rect x="441.8" y="216.9" width="103.9" height="96.5"/></clipPath><g clip-path="url(#ce)"><rect x="441.5" y="4.1" width="106.4" height="93.8" fill="#0606da" stroke="#0000a0" stroke-width="1"/><polyline points="443.0,22.7 472.6,44.5" fill="none" stroke="#3a88ff" stroke-width="6" stroke-opacity="0.45" stroke-linejoin="round" stroke-linecap="round"/><polyline points="443.0,22.7 472.6,44.5" fill="none" stroke="#2aa4f4" stroke-width="3.2" stroke-opacity="0.8" stroke-linejoin="round" stroke-linecap="round"/><polyline points="443.0,22.7 472.6,44.5" fill="none" stroke="#5cd4ff" stroke-width="1.3" stroke-opacity="0.95" stroke-linejoin="round" stroke-linecap="round"/><polyline points="472.6,44.5 501.7,5.1 515.8,18.5" fill="none" stroke="#3a88ff" stroke-width="6" stroke-opacity="0.45" stroke-linejoin="round" stroke-linecap="round"/><polyline points="472.6,44.5 501.7,5.1 515.8,18.5" fill="none" stroke="#2aa4f4" stroke-width="3.2" stroke-opacity="0.8" stroke-linejoin="round" stroke-linecap="round"/><polyline points="472.6,44.5 501.7,5.1 515.8,18.5" fill="none" stroke="#5cd4ff" stroke-width="1.3" stroke-opacity="0.95" stroke-linejoin="round" stroke-linecap="round"/><polyline points="507.0,10.5 516.0,20.0" fill="none" stroke="#20d890" stroke-width="3" stroke-opacity="0.8" stroke-linejoin="round" stroke-linecap="round"/><polyline points="465.6,5.1 476.0,14.0" fill="none" stroke="#2a8cff" stroke-width="2" stroke-opacity="0.6" stroke-linejoin="round" stroke-linecap="round"/><polyline points="464.9,52.8 442.4,96.4" fill="none" stroke="#2a80ff" stroke-width="2.6" stroke-opacity="0.5" stroke-linejoin="round" stroke-linecap="round"/><polyline points="464.9,52.8 442.4,96.4" fill="none" stroke="#18a8e0" stroke-width="1.1" stroke-opacity="1" stroke-linejoin="round" stroke-linecap="round"/><polyline points="455.1,21.3 472.6,44.5" fill="none" stroke="#18e060" stroke-width="4.6" stroke-opacity="1" stroke-linejoin="round" stroke-linecap="round"/><polyline points="455.1,21.3 472.6,44.5" fill="none" stroke="#000" stroke-width="1.9" stroke-opacity="1" stroke-linejoin="round" stroke-linecap="round"/><polyline points="515.8,22.0 539.0,51.0 544.6,58.4" fill="none" stroke="#30c0ff" stroke-width="3.4" stroke-opacity="0.5" stroke-linejoin="round" stroke-linecap="round"/><polyline points="515.8,22.0 539.0,51.0 544.6,58.4" fill="none" stroke="#18e060" stroke-width="2" stroke-opacity="1" stroke-linejoin="round" stroke-linecap="round"/><polygon points="489,75.5 492,77.5 513,98 502,98" fill="#22d0e8" stroke="#18e060" stroke-width="1"/><polyline points="467.0,53.5 491.0,77.5 513.0,98.0" fill="none" stroke="#18e060" stroke-width="4.4" stroke-opacity="1" stroke-linejoin="round" stroke-linecap="round"/><polyline points="467.0,53.5 491.0,77.5 513.0,98.0" fill="none" stroke="#000" stroke-width="2.2" stroke-opacity="1" stroke-linejoin="round" stroke-linecap="round"/><polyline points="544.6,58.4 513.0,96.4" fill="none" stroke="#22c8ff" stroke-width="3" stroke-opacity="0.7" stroke-linejoin="round" stroke-linecap="round"/><polyline points="544.6,58.4 513.0,96.4" fill="none" stroke="#18e060" stroke-width="1.6" stroke-opacity="1" stroke-linejoin="round" stroke-linecap="round"/><polygon points="465,42 471,41 473.5,48 472.6,56.5 468,57 464.5,52" fill="#000"/><polygon points="514.8,18.5 517.9,19 518.2,27 515,27.5" fill="#000"/><polygon points="481,71 485.5,73 484,76" fill="#000"/><polygon points="505.5,90.5 509.5,93 508.5,96" fill="#000"/><polygon points="542,55.5 545.5,57 545,60" fill="#000"/><polygon points="457.2,9.4 457.2,8.0 458.2,7.3 459.8,8.7 459.9,10.2 459.0,11.1" fill="#f0f0f0"/><polygon points="470.1,13.9 468.7,11.2 471.3,10.2 472.2,12.1" fill="#f0f0f0"/><polygon points="473.9,13.7 473.1,12.0 473.9,10.5 475.7,10.7 476.2,13.3" fill="#f0f0f0"/><polygon points="471.9,18.4 471.6,15.7 474.8,14.7 474.2,18.0" fill="#f0f0f0"/><polygon points="475.4,10.2 476.0,8.1 477.4,9.1 477.1,10.2" fill="#f0f0f0"/><polygon points="464.2,21.2 461.9,21.6 461.2,19.6 462.8,18.1 465.2,19.5" fill="#f0f0f0"/><polygon points="470.4,22.9 468.9,22.2 468.7,20.0 470.0,19.3 471.1,22.0" fill="#f0f0f0"/><polygon points="476.7,20.3 478.4,18.6 479.7,19.3 480.0,20.4 478.4,21.2" fill="#f0f0f0"/><polygon points="476.9,25.7 475.3,25.4 475.0,24.2 476.2,23.5 477.3,25.0" fill="#f0f0f0"/><polygon points="466.9,27.4 465.3,28.0 464.6,27.8 464.9,26.0 466.1,25.6 466.7,26.4" fill="#f0f0f0"/><polygon points="473.3,26.6 471.6,27.3 470.8,25.8 472.6,25.0" fill="#f0f0f0"/><polygon points="451.3,29.5 449.6,30.0 448.7,28.7 450.7,28.1" fill="#f0f0f0"/><polygon points="493.0,10.3 490.9,10.3 490.5,9.3 492.6,7.8 494.0,8.5 493.8,9.7" fill="#f0f0f0"/><polygon points="489.0,24.4 489.8,23.1 491.3,23.9 490.8,25.1" fill="#f0f0f0"/><polygon points="454.6,47.2 455.6,44.5 457.0,45.7 456.8,48.2 455.5,48.6" fill="#f0f0f0"/><polygon points="461.7,46.2 462.7,42.1 465.3,44.7 464.7,48.2" fill="#f0f0f0"/><polygon points="463.3,48.0 461.8,49.2 461.0,47.3 462.4,46.8" fill="#f0f0f0"/><polygon points="472.5,49.2 471.0,48.2 473.2,47.0 474.5,48.4" fill="#f0f0f0"/><polygon points="482.2,45.7 480.6,46.3 479.8,45.8 480.3,44.2 481.7,44.2 482.3,45.1" fill="#f0f0f0"/><polygon points="505.1,22.0 504.7,20.5 506.8,19.3 507.8,19.8 508.3,22.8 507.9,23.9" fill="#f0f0f0"/><polygon points="500.2,28.8 498.6,29.5 497.6,28.6 498.3,27.0 499.7,27.4" fill="#f0f0f0"/><polygon points="525.9,21.2 524.7,21.4 525.3,20.0 526.6,19.9" fill="#f0f0f0"/><polygon points="533.8,23.3 533.1,24.6 531.5,23.9 531.8,20.9 533.6,20.3" fill="#f0f0f0"/><polygon points="543.2,21.8 542.2,22.6 541.5,21.4 542.2,20.3 543.7,20.4" fill="#f0f0f0"/><polygon points="507.0,47.3 505.4,46.9 505.5,44.0 507.2,43.3 508.5,45.7" fill="#f0f0f0"/><polygon points="498.2,50.6 496.9,49.8 497.4,48.3 498.6,48.1 499.4,50.1" fill="#f0f0f0"/><polygon points="456.4,60.7 455.3,60.8 454.6,59.7 455.4,58.4 456.9,59.0" fill="#f0f0f0"/><polygon points="469.0,66.0 468.3,62.3 469.3,61.2 473.0,62.9 473.3,66.1 471.2,67.4" fill="#f0f0f0"/><polygon points="465.6,69.7 466.5,67.1 468.1,66.8 467.4,69.5" fill="#f0f0f0"/><polygon points="447.4,69.2 447.8,68.0 449.0,67.6 449.9,69.5 449.7,71.1 448.5,72.1" fill="#f0f0f0"/><polygon points="460.0,67.2 459.1,66.1 460.2,65.4 460.9,66.3" fill="#f0f0f0"/><polygon points="475.6,69.8 474.4,70.3 473.5,68.9 473.9,68.2 475.4,67.7 476.0,68.4" fill="#f0f0f0"/><polygon points="483.4,73.0 481.9,75.2 479.9,73.3 482.0,71.3" fill="#f0f0f0"/><polygon points="491.2,65.0 490.6,63.7 492.5,62.7 494.0,64.0 493.3,65.4" fill="#f0f0f0"/><polygon points="481.2,89.8 480.8,87.6 483.1,87.8 484.0,90.0 482.8,91.4" fill="#f0f0f0"/><polygon points="448.4,95.7 448.8,94.0 449.8,93.7 450.7,95.3 449.8,96.2" fill="#f0f0f0"/><polygon points="470.5,83.4 469.4,83.7 469.1,82.8 470.0,82.2" fill="#f0f0f0"/><polygon points="500.4,52.4 500.4,50.0 502.8,49.8 503.4,51.0 502.6,52.9" fill="#f0f0f0"/><polygon points="506.4,52.6 507.1,50.9 508.3,51.3 508.6,52.6 507.4,53.4" fill="#f0f0f0"/><polygon points="524.9,61.2 524.3,60.2 525.3,59.7 525.6,60.8" fill="#f0f0f0"/><polygon points="525.1,66.9 521.5,66.1 523.0,63.6 524.9,64.1" fill="#f0f0f0"/><polygon points="494.4,69.3 494.5,67.3 496.0,67.2 496.7,68.7 495.6,69.6" fill="#f0f0f0"/><polygon points="501.9,72.1 500.3,71.6 500.0,69.9 502.5,68.6 503.8,70.0" fill="#f0f0f0"/><polygon points="531.0,76.6 528.7,76.8 529.3,74.5 531.8,73.5 532.4,75.0" fill="#f0f0f0"/><polygon points="539.6,86.4 539.8,84.3 542.6,82.8 542.5,85.1" fill="#f0f0f0"/><polygon points="505.2,92.3 506.4,90.4 507.6,90.3 509.1,92.3 507.9,93.8 506.7,93.8" fill="#f0f0f0"/><polygon points="539.2,58.0 538.0,56.6 538.2,54.3 540.1,53.1 541.6,54.0 541.1,57.4" fill="#f0f0f0"/></g><g clip-path="url(#cf)"><rect x="441.9" y="110.2" width="104.4" height="94.1" fill="#0606da" stroke="#0000a0" stroke-width="1"/><polyline points="459.0,111.0 467.0,119.0" fill="none" stroke="#3a7cf0" stroke-width="3" stroke-opacity="0.45" stroke-linejoin="round" stroke-linecap="round"/><polygon points="472,126 475,125 497,147 495,152 486,149" fill="#2a70e8" fill-opacity="0.7"/><polyline points="500.0,154.0 520.0,175.0 544.0,203.0" fill="none" stroke="#2f6ae6" stroke-width="8.5" stroke-opacity="0.6" stroke-linejoin="round" stroke-linecap="round"/><polyline points="500.0,154.0 520.0,175.0 544.0,203.0" fill="none" stroke="#5090f4" stroke-width="2.5" stroke-opacity="0.5" stroke-linejoin="round" stroke-linecap="round"/><polyline points="532.0,112.0 515.0,127.0 497.0,146.0" fill="none" stroke="#3a7cf0" stroke-width="5" stroke-opacity="0.5" stroke-linejoin="round" stroke-linecap="round"/><polyline points="497.0,156.0 480.0,176.0 466.0,194.0 458.0,204.0" fill="none" stroke="#3a7cf0" stroke-width="9" stroke-opacity="0.35" stroke-linejoin="round" stroke-linecap="round"/><polyline points="546.0,112.5 443.0,204.5" fill="none" stroke="#22a8ff" stroke-width="5.4" stroke-opacity="0.6" stroke-linejoin="round" stroke-linecap="round"/><polyline points="546.0,112.5 443.0,204.5" fill="none" stroke="#18e060" stroke-width="3.8" stroke-opacity="1" stroke-linejoin="round" stroke-linecap="round"/><polyline points="546.0,112.5 443.0,204.5" fill="none" stroke="#000" stroke-width="1.9" stroke-opacity="1" stroke-linejoin="round" stroke-linecap="round"/><polyline points="546.0,115.5 447.0,205.0" fill="none" stroke="#22d8ff" stroke-width="1.6" stroke-opacity="0.9" stroke-linejoin="round" stroke-linecap="round"/><polygon points="494.5,148 501,147.5 501.5,155.5 495,156.5" fill="#000"/><polygon points="493.5,149 495,148.5 495,156 493,156" fill="#f0f0f0"/><polygon points="537,110 546,110 546,114" fill="#000"/><polygon points="464.6,114.4 463.7,116.6 462.1,114.7 463.8,113.0" fill="#f0f0f0"/><polygon points="475.0,122.0 473.8,123.8 472.7,122.6 473.7,118.7 475.0,118.4" fill="#f0f0f0"/><polygon points="491.7,123.8 489.9,122.2 490.4,121.2 492.6,121.5 493.0,123.4" fill="#f0f0f0"/><polygon points="456.1,128.5 455.2,127.5 455.8,127.3 457.2,127.7 457.5,128.7" fill="#f0f0f0"/><polygon points="450.9,132.6 448.9,132.8 448.6,131.7 450.8,129.9 451.6,130.8" fill="#f0f0f0"/><polygon points="447.2,139.0 446.2,137.7 447.5,136.6 448.5,138.6" fill="#f0f0f0"/><polygon points="477.8,138.9 476.6,137.4 477.2,135.4 479.7,136.2 480.3,137.5" fill="#f0f0f0"/><polygon points="470.7,145.2 469.8,144.2 469.6,140.5 470.7,140.3 471.7,143.8" fill="#f0f0f0"/><polygon points="466.0,147.5 464.5,146.2 465.5,144.9 467.7,145.5 468.1,146.7" fill="#f0f0f0"/><polygon points="446.8,151.5 445.6,148.4 448.7,147.9 450.4,151.2" fill="#f0f0f0"/><polygon points="451.4,150.2 450.6,147.8 451.9,147.5 453.6,148.8 453.7,150.6" fill="#f0f0f0"/><polygon points="448.8,154.7 447.3,155.3 445.4,154.0 445.9,153.0 447.8,152.8" fill="#f0f0f0"/><polygon points="463.8,153.5 462.7,153.7 461.5,152.7 462.3,151.2 463.9,151.8" fill="#f0f0f0"/><polygon points="470.4,152.0 469.8,151.1 470.5,150.5 471.3,151.1" fill="#f0f0f0"/><polygon points="478.8,152.6 478.1,150.7 480.7,150.9 481.1,153.1" fill="#f0f0f0"/><polygon points="498.6,133.2 497.7,130.7 500.0,129.7 501.6,131.2 500.5,133.3" fill="#f0f0f0"/><polygon points="527.1,130.6 527.8,128.9 529.8,130.8 529.1,132.4" fill="#f0f0f0"/><polygon points="520.3,138.8 520.7,135.8 522.4,136.0 522.6,139.4 521.4,141.8" fill="#f0f0f0"/><polygon points="530.9,138.4 530.9,136.1 532.4,136.7 533.4,139.5 532.2,140.9" fill="#f0f0f0"/><polygon points="537.3,144.1 535.5,143.2 536.3,141.8 538.7,141.5 539.4,142.8" fill="#f0f0f0"/><polygon points="532.7,147.2 532.3,145.8 533.0,145.2 534.8,146.0 534.1,147.5" fill="#f0f0f0"/><polygon points="536.4,151.4 535.3,149.0 538.2,148.3 538.3,150.7" fill="#f0f0f0"/><polygon points="541.1,149.7 540.6,147.2 542.1,147.0 543.1,148.6 542.6,149.9" fill="#f0f0f0"/><polygon points="515.7,151.4 515.6,149.9 517.5,149.8 518.8,151.9 517.7,153.4" fill="#f0f0f0"/><polygon points="530.3,153.8 529.4,155.4 528.3,154.6 528.2,153.3 530.1,152.9" fill="#f0f0f0"/><polygon points="511.5,145.4 510.4,145.5 510.1,144.7 510.7,144.2 511.7,144.6" fill="#f0f0f0"/><polygon points="476.9,159.4 475.4,157.1 477.6,157.0 478.9,158.6" fill="#f0f0f0"/><polygon points="471.5,163.0 472.2,161.0 473.7,161.5 473.6,162.7 472.9,163.5" fill="#f0f0f0"/><polygon points="465.7,167.2 464.0,166.6 465.4,164.7 466.9,164.7" fill="#f0f0f0"/><polygon points="456.3,166.5 454.8,166.9 454.0,166.1 454.4,164.8 455.9,164.6" fill="#f0f0f0"/><polygon points="461.5,170.4 461.4,169.7 462.3,169.3 462.9,170.0 462.6,170.7 461.8,170.7" fill="#f0f0f0"/><polygon points="453.0,178.8 450.1,179.2 450.0,176.8 452.6,176.5" fill="#f0f0f0"/><polygon points="448.1,185.7 446.1,186.9 445.5,185.1 447.2,183.1 449.4,183.9" fill="#f0f0f0"/><polygon points="486.8,178.6 483.2,176.6 484.4,175.7 487.5,176.4 488.3,178.3" fill="#f0f0f0"/><polygon points="491.1,183.0 489.7,181.4 490.3,179.4 492.2,180.6" fill="#f0f0f0"/><polygon points="478.9,184.1 477.6,182.9 478.4,181.6 480.1,182.3 479.9,183.4" fill="#f0f0f0"/><polygon points="479.2,194.0 477.9,192.5 478.8,191.2 480.3,192.6" fill="#f0f0f0"/><polygon points="447.6,196.6 446.0,197.1 445.5,195.6 446.9,195.0" fill="#f0f0f0"/><polygon points="465.0,199.9 464.2,200.3 463.6,199.9 463.5,199.1 464.7,199.0" fill="#f0f0f0"/><polygon points="507.1,157.7 506.9,156.0 507.7,155.5 509.2,155.8 509.3,157.1 508.5,158.1" fill="#f0f0f0"/><polygon points="511.8,159.4 512.3,157.8 513.7,157.6 514.2,159.6 513.2,160.2" fill="#f0f0f0"/><polygon points="527.9,158.5 526.5,157.6 526.9,156.6 528.4,156.4 529.2,157.4" fill="#f0f0f0"/><polygon points="501.2,162.3 501.1,160.2 503.0,160.1 503.9,161.7 503.1,163.4" fill="#f0f0f0"/><polygon points="526.8,164.1 526.0,165.7 523.5,165.8 523.2,164.5 524.3,162.9 525.4,162.3" fill="#f0f0f0"/><polygon points="537.1,166.4 533.3,166.8 533.0,165.0 536.2,163.3 538.0,164.0" fill="#f0f0f0"/><polygon points="544.5,166.9 543.2,169.4 541.6,169.8 540.7,165.3 541.4,163.7 543.9,164.6" fill="#f0f0f0"/><polygon points="530.1,171.0 529.5,168.0 530.3,167.2 532.7,166.4 533.3,168.3 532.2,170.6" fill="#f0f0f0"/><polygon points="514.3,169.3 512.3,168.4 511.7,166.5 514.3,165.6 515.4,167.3" fill="#f0f0f0"/><polygon points="526.4,172.3 525.6,171.9 526.1,170.8 527.0,171.5" fill="#f0f0f0"/><polygon points="540.1,178.4 541.5,175.6 543.3,176.8 543.1,179.8 540.8,180.0" fill="#f0f0f0"/><polygon points="523.3,182.4 524.6,180.1 526.9,181.4 525.0,183.9" fill="#f0f0f0"/><polygon points="501.9,180.2 501.1,179.3 502.1,178.1 503.6,178.6 503.6,179.7" fill="#f0f0f0"/><polygon points="512.7,186.7 510.9,187.4 509.1,185.4 509.7,184.0 511.8,183.8 513.0,185.4" fill="#f0f0f0"/><polygon points="496.5,188.9 495.0,189.6 494.3,188.2 495.5,187.2" fill="#f0f0f0"/><polygon points="499.7,190.3 500.2,188.8 501.6,188.7 502.2,189.8 501.3,191.1" fill="#f0f0f0"/><polygon points="498.6,194.3 498.0,195.3 496.2,195.1 494.8,193.3 495.7,192.9 498.0,193.4" fill="#f0f0f0"/><polygon points="509.9,198.4 507.3,198.0 508.0,195.1 510.9,194.9 511.8,197.4" fill="#f0f0f0"/><polygon points="514.9,197.4 512.8,198.0 511.9,196.0 514.1,194.2 515.0,194.8" fill="#f0f0f0"/><polygon points="522.9,198.8 523.0,197.5 523.9,197.5 523.8,198.8" fill="#f0f0f0"/><polygon points="528.7,193.2 528.4,192.5 528.9,192.0 529.7,192.0 529.9,192.8 529.1,193.4" fill="#f0f0f0"/><polygon points="540.7,197.4 539.1,198.4 538.5,197.8 538.5,196.4 540.1,194.9 541.1,196.1" fill="#f0f0f0"/><polygon points="543.8,200.8 542.9,201.4 541.4,200.5 541.9,199.0 543.1,199.0" fill="#f0f0f0"/></g><line x1="441.9" y1="110.5" x2="546.3" y2="110.5" stroke="#000" stroke-width="1"/><g clip-path="url(#cg)"><rect x="441.8" y="216.9" width="103.9" height="96.5" fill="#0606da" stroke="#0000a0" stroke-width="1"/><polygon points="527,291 533,287 545,296 545,306 537,313 528,313 524,300" fill="#3b7cf0" fill-opacity="0.6"/><polyline points="527,291 533,287 545,296 545,306 537,313" fill="none" stroke="#4aa8ff" stroke-width="0.8"/><polyline points="456.5,231.5 472.0,243.5 486.0,255.0 492.0,264.0 497.0,271.0 510.0,285.5 522.0,299.0 533.6,313.2" fill="none" stroke="#20c8e0" stroke-width="4.6" stroke-opacity="0.5" stroke-linejoin="round" stroke-linecap="round"/><polyline points="456.5,231.5 472.0,243.5 486.0,255.0 492.0,264.0 497.0,271.0 510.0,285.5 522.0,299.0 533.6,313.2" fill="none" stroke="#18e060" stroke-width="3.4" stroke-opacity="1" stroke-linejoin="round" stroke-linecap="round"/><polyline points="456.5,231.5 472.0,243.5 486.0,255.0 492.0,264.0 497.0,271.0 510.0,285.5 522.0,299.0 533.6,313.2" fill="none" stroke="#000" stroke-width="2.2" stroke-opacity="1" stroke-linejoin="round" stroke-linecap="round"/><polygon points="489.2,261.3 487.1,261.5 484.7,258.8 485.3,255.5 488.8,254.6 491.9,257.5" fill="#000"/><polygon points="494.4,273.9 491.1,271.8 493.3,267.8 497.2,268.7 498.6,271.4" fill="#000"/><polygon points="501.4,276.9 499.7,277.5 498.2,276.5 499.6,274.1 501.6,275.7" fill="#000"/><polygon points="504.7,284.6 506.9,281.0 509.6,283.4 507.5,285.4" fill="#000"/><polygon points="515.1,290.8 512.9,291.7 511.5,290.7 511.5,288.9 513.0,288.3 514.9,289.2" fill="#000"/><polygon points="514.6,294.3 515.1,292.7 518.0,292.2 518.2,294.8 515.8,295.9" fill="#000"/><polygon points="527.6,303.1 524.6,305.8 521.7,304.3 521.1,300.0 525.8,299.7" fill="#000"/><polygon points="529.1,311.3 528.3,308.3 530.1,306.7 531.5,307.3 531.5,310.7" fill="#000"/><polygon points="473.9,225.5 470.6,225.0 470.7,221.8 474.4,221.5" fill="#f0f0f0"/><polygon points="489.0,227.5 486.6,226.3 486.6,223.5 489.7,223.2 490.0,224.9" fill="#f0f0f0"/><polygon points="457.3,227.8 457.0,225.7 458.3,225.1 459.2,226.8" fill="#f0f0f0"/><polygon points="468.0,232.3 467.8,231.7 468.5,230.3 469.7,230.5 470.3,231.8 469.8,232.4" fill="#f0f0f0"/><polygon points="485.6,230.2 485.5,228.6 487.0,228.0 488.0,228.8 487.5,230.5" fill="#f0f0f0"/><polygon points="488.4,233.2 487.2,233.4 486.2,231.5 488.0,231.0" fill="#f0f0f0"/><polygon points="491.2,239.6 489.3,239.3 489.7,238.0 492.1,237.2 492.8,237.7" fill="#f0f0f0"/><polygon points="486.1,242.0 486.1,240.7 486.8,240.5 487.8,241.4 486.7,242.2" fill="#f0f0f0"/><polygon points="452.4,239.7 450.2,239.1 450.5,238.1 452.6,237.4 454.3,238.2" fill="#f0f0f0"/><polygon points="450.6,244.1 448.5,242.3 449.6,240.5 453.4,241.7" fill="#f0f0f0"/><polygon points="461.2,244.0 458.9,242.6 459.3,240.7 461.5,240.5 462.3,241.6" fill="#f0f0f0"/><polygon points="442.8,245.3 443.3,243.7 444.5,243.8 445.0,245.0 444.2,245.9" fill="#f0f0f0"/><polygon points="449.8,247.9 446.1,245.9 447.1,244.7 451.0,244.5 451.6,247.8" fill="#f0f0f0"/><polygon points="449.5,250.9 447.8,250.2 449.1,247.2 451.4,248.2" fill="#f0f0f0"/><polygon points="476.2,247.7 478.6,246.5 480.3,246.6 481.1,248.0 478.4,248.9" fill="#f0f0f0"/><polygon points="448.0,252.8 447.1,253.7 445.5,252.9 445.5,251.7 447.2,251.6" fill="#f0f0f0"/><polygon points="448.8,253.9 450.8,250.6 453.7,253.1 452.6,255.5" fill="#f0f0f0"/><polygon points="457.4,255.4 456.0,254.3 456.5,253.2 458.1,253.1 458.3,254.2" fill="#f0f0f0"/><polygon points="475.6,254.3 473.9,254.8 473.4,253.9 474.5,251.9 475.9,251.8" fill="#f0f0f0"/><polygon points="474.4,256.9 473.3,257.2 472.7,257.0 472.1,255.6 472.9,254.9 474.4,255.6" fill="#f0f0f0"/><polygon points="450.7,260.6 450.7,258.4 452.2,258.5 452.8,259.2 451.7,261.0" fill="#f0f0f0"/><polygon points="456.0,263.8 453.2,263.1 452.9,261.2 454.8,261.0" fill="#f0f0f0"/><polygon points="462.4,262.4 461.2,261.8 461.1,260.6 462.2,259.7 463.0,260.2 463.2,261.0" fill="#f0f0f0"/><polygon points="504.4,229.3 502.7,229.8 501.7,228.7 502.4,227.5 503.8,227.5" fill="#f0f0f0"/><polygon points="517.8,235.1 514.7,236.1 513.2,235.6 511.6,233.6 513.1,232.5 516.2,233.1" fill="#f0f0f0"/><polygon points="496.9,239.2 495.4,238.6 495.8,237.0 497.9,236.5 498.5,237.9" fill="#f0f0f0"/><polygon points="502.0,242.7 502.7,239.9 504.1,239.6 506.1,240.5 507.0,243.3 503.8,244.2" fill="#f0f0f0"/><polygon points="524.1,244.0 521.7,241.2 522.8,239.1 526.2,240.0 525.8,243.7" fill="#f0f0f0"/><polygon points="531.5,246.8 530.2,246.4 530.2,245.2 530.5,244.4 531.8,244.3 532.5,245.3" fill="#f0f0f0"/><polygon points="536.5,250.0 536.8,247.5 539.8,248.2 540.0,250.7 538.3,252.1" fill="#f0f0f0"/><polygon points="512.3,250.2 511.2,249.7 511.7,248.0 512.9,248.0 513.5,249.2" fill="#f0f0f0"/><polygon points="516.9,251.5 517.8,249.0 520.7,248.9 521.8,251.0 519.0,252.3" fill="#f0f0f0"/><polygon points="499.2,251.8 498.4,251.0 498.7,249.7 500.3,249.3 500.8,250.4 500.6,251.5" fill="#f0f0f0"/><polygon points="508.9,253.4 508.1,252.7 508.8,251.8 509.5,252.8" fill="#f0f0f0"/><polygon points="529.6,255.1 528.7,253.6 530.6,252.8 531.0,254.3" fill="#f0f0f0"/><polygon points="497.5,257.6 499.0,256.2 500.0,257.9 499.0,258.7" fill="#f0f0f0"/><polygon points="504.4,257.6 503.7,256.8 503.9,256.3 504.8,256.0 505.2,257.2" fill="#f0f0f0"/><polygon points="507.0,262.1 506.1,259.5 507.3,258.8 511.2,260.3 510.4,263.0" fill="#f0f0f0"/><polygon points="521.2,261.4 519.1,260.4 519.5,259.5 521.6,259.2 523.2,259.6 523.9,261.1" fill="#f0f0f0"/><polygon points="526.6,263.8 525.9,262.4 526.3,261.5 528.3,261.9 527.9,263.0" fill="#f0f0f0"/><polygon points="516.0,259.0 515.1,258.4 515.1,258.0 516.2,257.5 516.5,258.3" fill="#f0f0f0"/><polygon points="453.3,267.5 450.7,266.0 452.5,263.7 454.3,264.8" fill="#f0f0f0"/><polygon points="457.3,268.2 456.5,266.5 458.5,265.9 458.9,268.0" fill="#f0f0f0"/><polygon points="469.1,270.2 465.9,269.5 467.4,266.7 470.4,267.4" fill="#f0f0f0"/><polygon points="447.3,271.6 446.6,272.4 445.1,272.3 444.9,270.7 445.5,270.2 447.3,270.8" fill="#f0f0f0"/><polygon points="455.6,274.5 455.1,273.6 455.9,272.4 457.6,272.8 457.4,274.0 456.5,274.6" fill="#f0f0f0"/><polygon points="476.2,280.6 474.4,278.9 474.5,275.2 478.0,275.1 478.3,278.8" fill="#f0f0f0"/><polygon points="452.2,280.0 450.4,278.9 450.8,277.7 452.9,277.8 454.0,279.4" fill="#f0f0f0"/><polygon points="463.9,281.7 461.0,284.2 459.6,284.3 457.7,279.9 458.6,278.4 462.7,278.2" fill="#f0f0f0"/><polygon points="467.1,285.0 464.6,286.5 463.6,283.2 466.2,282.6" fill="#f0f0f0"/><polygon points="442.5,285.2 442.9,282.9 445.1,285.0 445.0,287.7" fill="#f0f0f0"/><polygon points="480.3,283.6 481.1,281.7 482.6,282.4 481.7,284.2" fill="#f0f0f0"/><polygon points="474.3,288.8 474.7,287.3 476.1,287.1 476.8,287.9 476.1,289.4 475.3,289.3" fill="#f0f0f0"/><polygon points="488.2,287.3 487.5,285.6 488.6,284.8 489.8,285.7 489.4,287.0" fill="#f0f0f0"/><polygon points="484.5,291.5 484.1,289.5 485.5,289.4 485.8,291.3" fill="#f0f0f0"/><polygon points="452.2,291.0 451.3,289.8 451.4,288.8 452.0,288.4 452.6,289.6" fill="#f0f0f0"/><polygon points="490.5,307.2 488.4,309.0 485.9,308.6 486.3,304.4 488.4,303.9" fill="#f0f0f0"/><polygon points="491.8,293.8 492.6,293.1 493.8,293.2 493.8,295.1 492.9,295.2" fill="#f0f0f0"/><polygon points="461.0,308.0 460.8,307.5 461.1,306.6 462.1,307.0 462.0,307.8" fill="#f0f0f0"/><polygon points="454.0,303.4 452.9,303.4 452.8,302.4 454.2,302.5" fill="#f0f0f0"/><polygon points="508.3,266.8 507.5,264.8 507.7,263.3 509.6,263.0 509.9,265.1" fill="#f0f0f0"/><polygon points="528.7,267.5 525.4,267.7 525.3,264.0 527.5,262.9 529.7,265.8" fill="#f0f0f0"/><polygon points="535.6,267.8 535.3,265.4 537.1,265.2 538.0,267.1 537.1,268.5" fill="#f0f0f0"/><polygon points="527.1,270.5 528.3,269.3 529.2,269.5 529.7,271.0 528.3,271.9" fill="#f0f0f0"/><polygon points="537.9,271.3 537.7,269.8 539.1,269.2 539.8,271.2 538.5,271.8" fill="#f0f0f0"/><polygon points="512.3,276.8 512.8,273.7 515.4,272.4 516.4,273.4 515.4,276.9" fill="#f0f0f0"/><polygon points="523.8,281.1 524.4,277.9 525.2,277.8 525.8,281.7 525.4,282.8" fill="#f0f0f0"/><polygon points="505.5,282.5 502.8,285.1 501.7,283.2 503.3,281.5" fill="#f0f0f0"/><polygon points="517.4,288.4 514.5,288.7 512.7,285.3 515.4,283.5 517.2,284.6" fill="#f0f0f0"/><polygon points="530.8,287.6 529.0,288.3 527.8,287.0 528.8,284.9 530.3,284.0 532.3,284.9" fill="#f0f0f0"/><polygon points="537.9,284.0 537.4,283.2 538.5,282.0 540.1,282.5 539.7,283.9" fill="#f0f0f0"/><polygon points="496.0,295.6 498.1,294.1 499.7,295.3 497.9,296.7" fill="#f0f0f0"/><polygon points="506.4,298.6 505.3,297.1 505.9,295.0 507.6,296.5" fill="#f0f0f0"/><polygon points="519.9,292.4 520.7,291.5 521.8,291.4 522.2,292.2 521.8,293.8 520.3,293.8" fill="#f0f0f0"/><polygon points="505.1,312.9 503.7,312.6 502.3,308.9 503.6,308.1 505.1,308.1 506.3,310.3" fill="#f0f0f0"/><polygon points="496.3,291.0 496.2,290.4 496.5,289.8 497.6,289.9 497.6,290.6 497.2,291.1" fill="#f0f0f0"/><polygon points="532.3,304.2 530.3,303.6 531.5,302.1 533.8,301.7 535.2,303.3" fill="#f0f0f0"/><polygon points="535.8,307.7 534.6,307.2 535.2,305.7 535.9,305.2 536.9,306.3 536.9,307.0" fill="#f0f0f0"/><polygon points="539.8,297.7 538.0,297.9 537.5,296.6 538.7,295.8 540.1,297.0" fill="#f0f0f0"/></g><rect x="441.5" y="3.8" width="15.699999999999989" height="17.0" fill="#fff" stroke="#b0bce0" stroke-width="0.8"/><text class="sa" x="449.4" y="16.0" font-size="12" text-anchor="middle" fill="#111" stroke="#111" stroke-width="0.35">(e)</text><rect x="441.8" y="109.6" width="15.5" height="16.0" fill="#fff" stroke="#b0bce0" stroke-width="0.8"/><text class="sa" x="449.6" y="121.8" font-size="12" text-anchor="middle" fill="#111" stroke="#111" stroke-width="0.35">(f)</text><rect x="441.8" y="216.8" width="14.699999999999989" height="16.099999999999994" fill="#fff" stroke="#b0bce0" stroke-width="0.8"/><text class="sa" x="449.1" y="229.0" font-size="12" text-anchor="middle" fill="#111" stroke="#111" stroke-width="0.35">(g)</text><text class="tn" x="509.9" y="17.1" font-size="10.8" font-weight="bold" fill="#fff" stroke="#fff" stroke-width="0.3" textLength="34.3" lengthAdjust="spacingAndGlyphs">V<tspan font-size="6.7" dy="2.6">f</tspan><tspan dy="-2.6"> = 5%</tspan></text><text class="tn" x="505.0" y="123.8" font-size="10.8" font-weight="bold" fill="#fff" stroke="#fff" stroke-width="0.3" textLength="39.3" lengthAdjust="spacingAndGlyphs">V<tspan font-size="6.7" dy="2.6">f</tspan><tspan dy="-2.6"> = 10%</tspan></text><text class="tn" x="505.0" y="231.8" font-size="10.8" font-weight="bold" fill="#fff" stroke="#fff" stroke-width="0.3" textLength="39.2" lengthAdjust="spacingAndGlyphs">V<tspan font-size="6.7" dy="2.6">f</tspan><tspan dy="-2.6"> = 15%</tspan></text><text class="tn" x="449.8" y="80.9" font-size="10.5" font-weight="bold" fill="#fff" textLength="26.0" lengthAdjust="spacingAndGlyphs">75 μm</text><rect x="448.7" y="86.6" width="29.1" height="1.4" fill="#fff"/><text class="tn" x="449.09999999999997" y="187.2" font-size="10.5" font-weight="bold" fill="#fff" textLength="26.0" lengthAdjust="spacingAndGlyphs">75 μm</text><rect x="448" y="193.0" width="28.9" height="1.4" fill="#fff"/><text class="tn" x="448.8" y="299.2" font-size="10.5" font-weight="bold" fill="#fff" textLength="27.0" lengthAdjust="spacingAndGlyphs">75 μm</text><rect x="448.3" y="305.1" width="28.7" height="1.4" fill="#fff"/><line x1="383.4" y1="197.4" x2="437.2" y2="104.5" stroke="#92d050" stroke-width="2.5"/><polygon points="441.2,97.6 439.3,106.9 438.0,103.1 434.1,103.9" fill="#92d050"/><line x1="376.3" y1="219.2" x2="434.2" y2="185.5" stroke="#7030a0" stroke-width="2.5"/><polygon points="440.3,182 434.9,188.6 435.5,184.8 431.9,183.4" fill="#7030a0"/><line x1="364.6" y1="248.7" x2="432.7" y2="263.5" stroke="#ffd966" stroke-width="2.6"/><polygon points="440.5,265.2 431.1,266.0 434.3,263.9 432.3,260.6" fill="#ffd966"/><rect x="442.3" y="322.3" width="95" height="3.3" fill="#000"/><polygon points="545.5,324 535.5,319.1 540,324 535.5,329.1" fill="#000"/><text class="tn" x="450.3" y="336.6" font-size="11.3" font-weight="bold" fill="#333" textLength="81.6" lengthAdjust="spacingAndGlyphs">Stretch direction</text></svg>
</body></html>
